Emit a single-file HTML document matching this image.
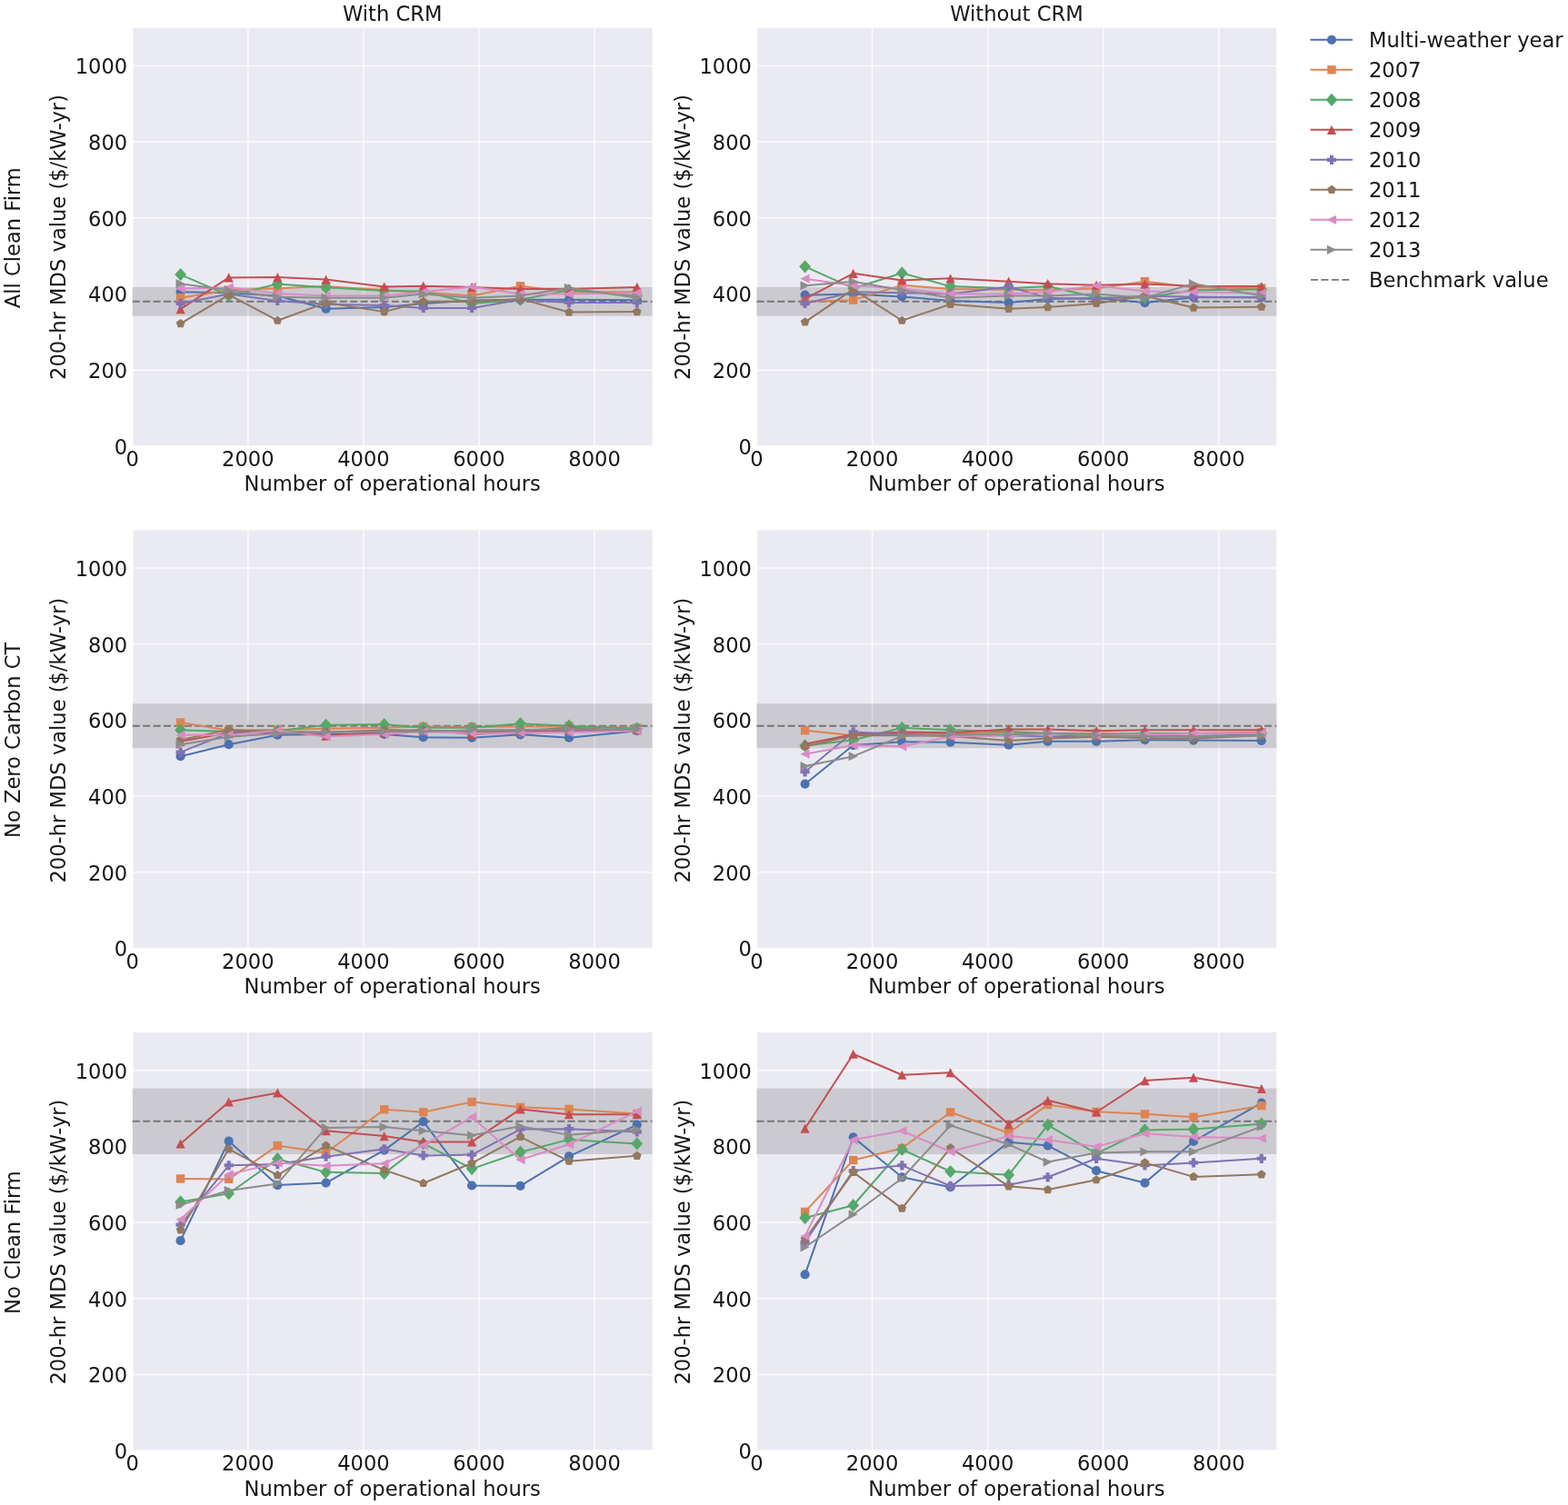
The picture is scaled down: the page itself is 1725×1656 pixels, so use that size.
<!DOCTYPE html>
<html><head><meta charset="utf-8"><title>MDS value chart</title>
<style>html,body{margin:0;padding:0;background:#fff;}svg{display:block;filter:blur(0.7px);}</style>
</head><body>
<svg width="1725" height="1656" viewBox="0 0 1725 1656" font-family="'DejaVu Sans', 'Liberation Sans', sans-serif" font-size="22.6" fill="#161616">
<rect width="1725" height="1656" fill="#fff"/>
<rect x="145.8" y="30.6" width="571.8" height="460.2" fill="#EAEAF2"/>
<path d="M145.8 30.6V490.8M272.87 30.6V490.8M399.93 30.6V490.8M527 30.6V490.8M654.07 30.6V490.8M145.8 490.8H717.6M145.8 407.13H717.6M145.8 323.45H717.6M145.8 239.78H717.6M145.8 156.11H717.6M145.8 72.44H717.6" stroke="#fff" stroke-opacity="0.8" stroke-width="1.5" fill="none"/>
<rect x="145.8" y="315.92" width="571.8" height="31.8" fill="#CBCAD0"/>
<path d="M272.87 315.92V347.72M399.93 315.92V347.72M527 315.92V347.72M654.07 315.92V347.72" stroke="#fff" stroke-opacity="0.3" stroke-width="1.5" fill="none"/>
<line x1="145.8" y1="331.82" x2="717.6" y2="331.82" stroke="#767676" stroke-width="1.9" stroke-dasharray="8 3.4"/>
<polyline points="198.6,321.36 251.7,322.2 305.3,325.55 358.6,339.77 422.7,338.1 465.7,333.91 519.1,330.57 572.5,329.73 626,329.73 700.8,330.15" fill="none" stroke="#4C72B0" stroke-width="2" stroke-linejoin="round" stroke-linecap="round"/>
<circle cx="198.6" cy="321.36" r="5.1" fill="#4C72B0"/>
<circle cx="251.7" cy="322.2" r="5.1" fill="#4C72B0"/>
<circle cx="305.3" cy="325.55" r="5.1" fill="#4C72B0"/>
<circle cx="358.6" cy="339.77" r="5.1" fill="#4C72B0"/>
<circle cx="422.7" cy="338.1" r="5.1" fill="#4C72B0"/>
<circle cx="465.7" cy="333.91" r="5.1" fill="#4C72B0"/>
<circle cx="519.1" cy="330.57" r="5.1" fill="#4C72B0"/>
<circle cx="572.5" cy="329.73" r="5.1" fill="#4C72B0"/>
<circle cx="626" cy="329.73" r="5.1" fill="#4C72B0"/>
<circle cx="700.8" cy="330.15" r="5.1" fill="#4C72B0"/>
<polyline points="198.6,327.64 251.7,319.27 305.3,317.18 358.6,315.09 422.7,319.27 465.7,321.78 519.1,325.55 572.5,314.67 626,321.36 700.8,321.36" fill="none" stroke="#DD8452" stroke-width="2" stroke-linejoin="round" stroke-linecap="round"/>
<polygon points="193.91,322.95 203.29,322.95 203.29,332.33 193.91,332.33" fill="#DD8452" stroke-linejoin="miter"/>
<polygon points="247.01,314.58 256.39,314.58 256.39,323.96 247.01,323.96" fill="#DD8452" stroke-linejoin="miter"/>
<polygon points="300.61,312.49 309.99,312.49 309.99,321.87 300.61,321.87" fill="#DD8452" stroke-linejoin="miter"/>
<polygon points="353.91,310.4 363.29,310.4 363.29,319.78 353.91,319.78" fill="#DD8452" stroke-linejoin="miter"/>
<polygon points="418.01,314.58 427.39,314.58 427.39,323.96 418.01,323.96" fill="#DD8452" stroke-linejoin="miter"/>
<polygon points="461.01,317.09 470.39,317.09 470.39,326.47 461.01,326.47" fill="#DD8452" stroke-linejoin="miter"/>
<polygon points="514.41,320.85 523.79,320.85 523.79,330.24 514.41,330.24" fill="#DD8452" stroke-linejoin="miter"/>
<polygon points="567.81,309.98 577.19,309.98 577.19,319.36 567.81,319.36" fill="#DD8452" stroke-linejoin="miter"/>
<polygon points="621.31,316.67 630.69,316.67 630.69,326.05 621.31,326.05" fill="#DD8452" stroke-linejoin="miter"/>
<polygon points="696.11,316.67 705.49,316.67 705.49,326.05 696.11,326.05" fill="#DD8452" stroke-linejoin="miter"/>
<polyline points="198.6,302.12 251.7,325.13 305.3,312.58 358.6,316.34 422.7,320.11 465.7,320.53 519.1,333.91 572.5,329.73 626,319.27 700.8,325.55" fill="none" stroke="#55A868" stroke-width="2" stroke-linejoin="round" stroke-linecap="round"/>
<polygon points="198.6,294.98 204.97,302.12 198.6,309.26 192.22,302.12" fill="#55A868" stroke-linejoin="miter"/>
<polygon points="251.7,317.99 258.07,325.13 251.7,332.27 245.32,325.13" fill="#55A868" stroke-linejoin="miter"/>
<polygon points="305.3,305.44 311.68,312.58 305.3,319.72 298.93,312.58" fill="#55A868" stroke-linejoin="miter"/>
<polygon points="358.6,309.2 364.98,316.34 358.6,323.48 352.23,316.34" fill="#55A868" stroke-linejoin="miter"/>
<polygon points="422.7,312.97 429.07,320.11 422.7,327.25 416.32,320.11" fill="#55A868" stroke-linejoin="miter"/>
<polygon points="465.7,313.39 472.07,320.53 465.7,327.67 459.32,320.53" fill="#55A868" stroke-linejoin="miter"/>
<polygon points="519.1,326.77 525.48,333.91 519.1,341.05 512.73,333.91" fill="#55A868" stroke-linejoin="miter"/>
<polygon points="572.5,322.59 578.88,329.73 572.5,336.87 566.12,329.73" fill="#55A868" stroke-linejoin="miter"/>
<polygon points="626,312.13 632.38,319.27 626,326.41 619.62,319.27" fill="#55A868" stroke-linejoin="miter"/>
<polygon points="700.8,318.41 707.17,325.55 700.8,332.69 694.42,325.55" fill="#55A868" stroke-linejoin="miter"/>
<polyline points="198.6,340.19 251.7,305.46 305.3,305.05 358.6,307.56 422.7,315.51 465.7,314.67 519.1,315.92 572.5,318.02 626,318.02 700.8,315.92" fill="none" stroke="#C44E52" stroke-width="2" stroke-linejoin="round" stroke-linecap="round"/>
<polygon points="198.6,335.09 203.7,345.29 193.5,345.29" fill="#C44E52" stroke-linejoin="miter"/>
<polygon points="251.7,300.36 256.8,310.56 246.6,310.56" fill="#C44E52" stroke-linejoin="miter"/>
<polygon points="305.3,299.95 310.4,310.15 300.2,310.15" fill="#C44E52" stroke-linejoin="miter"/>
<polygon points="358.6,302.46 363.7,312.66 353.5,312.66" fill="#C44E52" stroke-linejoin="miter"/>
<polygon points="422.7,310.41 427.8,320.61 417.6,320.61" fill="#C44E52" stroke-linejoin="miter"/>
<polygon points="465.7,309.57 470.8,319.77 460.6,319.77" fill="#C44E52" stroke-linejoin="miter"/>
<polygon points="519.1,310.82 524.2,321.02 514,321.02" fill="#C44E52" stroke-linejoin="miter"/>
<polygon points="572.5,312.92 577.6,323.12 567.4,323.12" fill="#C44E52" stroke-linejoin="miter"/>
<polygon points="626,312.92 631.1,323.12 620.9,323.12" fill="#C44E52" stroke-linejoin="miter"/>
<polygon points="700.8,310.82 705.9,321.02 695.7,321.02" fill="#C44E52" stroke-linejoin="miter"/>
<polyline points="198.6,333.91 251.7,323.45 305.3,330.99 358.6,334.75 422.7,336.01 465.7,338.93 519.1,338.93 572.5,329.73 626,333.08 700.8,333.08" fill="none" stroke="#8172B3" stroke-width="2" stroke-linejoin="round" stroke-linecap="round"/>
<polygon points="196.56,328.81 200.64,328.81 200.64,331.87 203.7,331.87 203.7,335.95 200.64,335.95 200.64,339.01 196.56,339.01 196.56,335.95 193.5,335.95 193.5,331.87 196.56,331.87" fill="#8172B3" stroke-linejoin="miter"/>
<polygon points="249.66,318.35 253.74,318.35 253.74,321.41 256.8,321.41 256.8,325.49 253.74,325.49 253.74,328.55 249.66,328.55 249.66,325.49 246.6,325.49 246.6,321.41 249.66,321.41" fill="#8172B3" stroke-linejoin="miter"/>
<polygon points="303.26,325.89 307.34,325.89 307.34,328.95 310.4,328.95 310.4,333.03 307.34,333.03 307.34,336.09 303.26,336.09 303.26,333.03 300.2,333.03 300.2,328.95 303.26,328.95" fill="#8172B3" stroke-linejoin="miter"/>
<polygon points="356.56,329.65 360.64,329.65 360.64,332.71 363.7,332.71 363.7,336.79 360.64,336.79 360.64,339.85 356.56,339.85 356.56,336.79 353.5,336.79 353.5,332.71 356.56,332.71" fill="#8172B3" stroke-linejoin="miter"/>
<polygon points="420.66,330.91 424.74,330.91 424.74,333.97 427.8,333.97 427.8,338.05 424.74,338.05 424.74,341.11 420.66,341.11 420.66,338.05 417.6,338.05 417.6,333.97 420.66,333.97" fill="#8172B3" stroke-linejoin="miter"/>
<polygon points="463.66,333.83 467.74,333.83 467.74,336.89 470.8,336.89 470.8,340.97 467.74,340.97 467.74,344.03 463.66,344.03 463.66,340.97 460.6,340.97 460.6,336.89 463.66,336.89" fill="#8172B3" stroke-linejoin="miter"/>
<polygon points="517.06,333.83 521.14,333.83 521.14,336.89 524.2,336.89 524.2,340.97 521.14,340.97 521.14,344.03 517.06,344.03 517.06,340.97 514,340.97 514,336.89 517.06,336.89" fill="#8172B3" stroke-linejoin="miter"/>
<polygon points="570.46,324.63 574.54,324.63 574.54,327.69 577.6,327.69 577.6,331.77 574.54,331.77 574.54,334.83 570.46,334.83 570.46,331.77 567.4,331.77 567.4,327.69 570.46,327.69" fill="#8172B3" stroke-linejoin="miter"/>
<polygon points="623.96,327.98 628.04,327.98 628.04,331.04 631.1,331.04 631.1,335.12 628.04,335.12 628.04,338.18 623.96,338.18 623.96,335.12 620.9,335.12 620.9,331.04 623.96,331.04" fill="#8172B3" stroke-linejoin="miter"/>
<polygon points="698.76,327.98 702.84,327.98 702.84,331.04 705.9,331.04 705.9,335.12 702.84,335.12 702.84,338.18 698.76,338.18 698.76,335.12 695.7,335.12 695.7,331.04 698.76,331.04" fill="#8172B3" stroke-linejoin="miter"/>
<polyline points="198.6,356.09 251.7,324.29 305.3,352.74 358.6,333.08 422.7,343.12 465.7,331.82 519.1,331.82 572.5,328.89 626,343.54 700.8,343.12" fill="none" stroke="#937860" stroke-width="2" stroke-linejoin="round" stroke-linecap="round"/>
<polygon points="198.6,350.99 203.45,354.51 201.6,360.21 195.6,360.21 193.75,354.51" fill="#937860" stroke-linejoin="miter"/>
<polygon points="251.7,319.19 256.55,322.72 254.7,328.42 248.7,328.42 246.85,322.72" fill="#937860" stroke-linejoin="miter"/>
<polygon points="305.3,347.64 310.15,351.16 308.3,356.87 302.3,356.87 300.45,351.16" fill="#937860" stroke-linejoin="miter"/>
<polygon points="358.6,327.98 363.45,331.5 361.6,337.2 355.6,337.2 353.75,331.5" fill="#937860" stroke-linejoin="miter"/>
<polygon points="422.7,338.02 427.55,341.54 425.7,347.24 419.7,347.24 417.85,341.54" fill="#937860" stroke-linejoin="miter"/>
<polygon points="465.7,326.72 470.55,330.25 468.7,335.95 462.7,335.95 460.85,330.25" fill="#937860" stroke-linejoin="miter"/>
<polygon points="519.1,326.72 523.95,330.25 522.1,335.95 516.1,335.95 514.25,330.25" fill="#937860" stroke-linejoin="miter"/>
<polygon points="572.5,323.79 577.35,327.32 575.5,333.02 569.5,333.02 567.65,327.32" fill="#937860" stroke-linejoin="miter"/>
<polygon points="626,338.44 630.85,341.96 629,347.66 623,347.66 621.15,341.96" fill="#937860" stroke-linejoin="miter"/>
<polygon points="700.8,338.02 705.65,341.54 703.8,347.24 697.8,347.24 695.95,341.54" fill="#937860" stroke-linejoin="miter"/>
<polyline points="198.6,317.6 251.7,316.34 305.3,323.04 358.6,325.55 422.7,325.55 465.7,321.36 519.1,315.51 572.5,323.45 626,323.45 700.8,322.2" fill="none" stroke="#DA8BC3" stroke-width="2" stroke-linejoin="round" stroke-linecap="round"/>
<polygon points="193.5,317.6 203.7,312.5 203.7,322.7" fill="#DA8BC3" stroke-linejoin="miter"/>
<polygon points="246.6,316.34 256.8,311.24 256.8,321.44" fill="#DA8BC3" stroke-linejoin="miter"/>
<polygon points="300.2,323.04 310.4,317.94 310.4,328.14" fill="#DA8BC3" stroke-linejoin="miter"/>
<polygon points="353.5,325.55 363.7,320.45 363.7,330.65" fill="#DA8BC3" stroke-linejoin="miter"/>
<polygon points="417.6,325.55 427.8,320.45 427.8,330.65" fill="#DA8BC3" stroke-linejoin="miter"/>
<polygon points="460.6,321.36 470.8,316.26 470.8,326.46" fill="#DA8BC3" stroke-linejoin="miter"/>
<polygon points="514,315.51 524.2,310.41 524.2,320.61" fill="#DA8BC3" stroke-linejoin="miter"/>
<polygon points="567.4,323.45 577.6,318.35 577.6,328.55" fill="#DA8BC3" stroke-linejoin="miter"/>
<polygon points="620.9,323.45 631.1,318.35 631.1,328.55" fill="#DA8BC3" stroke-linejoin="miter"/>
<polygon points="695.7,322.2 705.9,317.1 705.9,327.3" fill="#DA8BC3" stroke-linejoin="miter"/>
<polyline points="198.6,312.16 251.7,319.27 305.3,326.8 358.6,327.64 422.7,327.64 465.7,323.45 519.1,327.64 572.5,325.55 626,316.76 700.8,327.64" fill="none" stroke="#8C8C8C" stroke-width="2" stroke-linejoin="round" stroke-linecap="round"/>
<polygon points="203.7,312.16 193.5,307.06 193.5,317.26" fill="#8C8C8C" stroke-linejoin="miter"/>
<polygon points="256.8,319.27 246.6,314.17 246.6,324.37" fill="#8C8C8C" stroke-linejoin="miter"/>
<polygon points="310.4,326.8 300.2,321.7 300.2,331.9" fill="#8C8C8C" stroke-linejoin="miter"/>
<polygon points="363.7,327.64 353.5,322.54 353.5,332.74" fill="#8C8C8C" stroke-linejoin="miter"/>
<polygon points="427.8,327.64 417.6,322.54 417.6,332.74" fill="#8C8C8C" stroke-linejoin="miter"/>
<polygon points="470.8,323.45 460.6,318.35 460.6,328.55" fill="#8C8C8C" stroke-linejoin="miter"/>
<polygon points="524.2,327.64 514,322.54 514,332.74" fill="#8C8C8C" stroke-linejoin="miter"/>
<polygon points="577.6,325.55 567.4,320.45 567.4,330.65" fill="#8C8C8C" stroke-linejoin="miter"/>
<polygon points="631.1,316.76 620.9,311.66 620.9,321.86" fill="#8C8C8C" stroke-linejoin="miter"/>
<polygon points="705.9,327.64 695.7,322.54 695.7,332.74" fill="#8C8C8C" stroke-linejoin="miter"/>
<text x="140.2" y="499.6" text-anchor="end">0</text>
<text x="140.2" y="415.93" text-anchor="end">200</text>
<text x="140.2" y="332.25" text-anchor="end">400</text>
<text x="140.2" y="248.58" text-anchor="end">600</text>
<text x="140.2" y="164.91" text-anchor="end">800</text>
<text x="140.2" y="81.24" text-anchor="end">1000</text>
<text x="145.8" y="513.1" text-anchor="middle">0</text>
<text x="272.87" y="513.1" text-anchor="middle">2000</text>
<text x="399.93" y="513.1" text-anchor="middle">4000</text>
<text x="527" y="513.1" text-anchor="middle">6000</text>
<text x="654.07" y="513.1" text-anchor="middle">8000</text>
<text x="431.7" y="540.2" text-anchor="middle">Number of operational hours</text>
<text transform="translate(71.9 261) rotate(-90)" text-anchor="middle">200-hr MDS value ($/kW-yr)</text>
<text x="431.7" y="22.6" text-anchor="middle">With CRM</text>
<rect x="832.5" y="30.6" width="571.8" height="460.2" fill="#EAEAF2"/>
<path d="M832.5 30.6V490.8M959.57 30.6V490.8M1086.63 30.6V490.8M1213.7 30.6V490.8M1340.77 30.6V490.8M832.5 490.8H1404.3M832.5 407.13H1404.3M832.5 323.45H1404.3M832.5 239.78H1404.3M832.5 156.11H1404.3M832.5 72.44H1404.3" stroke="#fff" stroke-opacity="0.8" stroke-width="1.5" fill="none"/>
<rect x="832.5" y="315.92" width="571.8" height="31.8" fill="#CBCAD0"/>
<path d="M959.57 315.92V347.72M1086.63 315.92V347.72M1213.7 315.92V347.72M1340.77 315.92V347.72" stroke="#fff" stroke-opacity="0.3" stroke-width="1.5" fill="none"/>
<line x1="832.5" y1="331.82" x2="1404.3" y2="331.82" stroke="#767676" stroke-width="1.9" stroke-dasharray="8 3.4"/>
<polyline points="885.6,324.71 938.7,323.45 992.3,326.38 1045.6,330.99 1109.7,333.08 1152.7,328.89 1206.1,328.06 1259.5,333.08 1313,327.22 1387.8,327.22" fill="none" stroke="#4C72B0" stroke-width="2" stroke-linejoin="round" stroke-linecap="round"/>
<circle cx="885.6" cy="324.71" r="5.1" fill="#4C72B0"/>
<circle cx="938.7" cy="323.45" r="5.1" fill="#4C72B0"/>
<circle cx="992.3" cy="326.38" r="5.1" fill="#4C72B0"/>
<circle cx="1045.6" cy="330.99" r="5.1" fill="#4C72B0"/>
<circle cx="1109.7" cy="333.08" r="5.1" fill="#4C72B0"/>
<circle cx="1152.7" cy="328.89" r="5.1" fill="#4C72B0"/>
<circle cx="1206.1" cy="328.06" r="5.1" fill="#4C72B0"/>
<circle cx="1259.5" cy="333.08" r="5.1" fill="#4C72B0"/>
<circle cx="1313" cy="327.22" r="5.1" fill="#4C72B0"/>
<circle cx="1387.8" cy="327.22" r="5.1" fill="#4C72B0"/>
<polyline points="885.6,331.82 938.7,330.15 992.3,313.83 1045.6,318.02 1109.7,318.85 1152.7,319.27 1206.1,317.6 1259.5,309.65 1313,316.34 1387.8,317.18" fill="none" stroke="#DD8452" stroke-width="2" stroke-linejoin="round" stroke-linecap="round"/>
<polygon points="880.91,327.13 890.29,327.13 890.29,336.51 880.91,336.51" fill="#DD8452" stroke-linejoin="miter"/>
<polygon points="934.01,325.46 943.39,325.46 943.39,334.84 934.01,334.84" fill="#DD8452" stroke-linejoin="miter"/>
<polygon points="987.61,309.14 996.99,309.14 996.99,318.52 987.61,318.52" fill="#DD8452" stroke-linejoin="miter"/>
<polygon points="1040.91,313.32 1050.29,313.32 1050.29,322.71 1040.91,322.71" fill="#DD8452" stroke-linejoin="miter"/>
<polygon points="1105.01,314.16 1114.39,314.16 1114.39,323.54 1105.01,323.54" fill="#DD8452" stroke-linejoin="miter"/>
<polygon points="1148.01,314.58 1157.39,314.58 1157.39,323.96 1148.01,323.96" fill="#DD8452" stroke-linejoin="miter"/>
<polygon points="1201.41,312.91 1210.79,312.91 1210.79,322.29 1201.41,322.29" fill="#DD8452" stroke-linejoin="miter"/>
<polygon points="1254.81,304.96 1264.19,304.96 1264.19,314.34 1254.81,314.34" fill="#DD8452" stroke-linejoin="miter"/>
<polygon points="1308.31,311.65 1317.69,311.65 1317.69,321.03 1308.31,321.03" fill="#DD8452" stroke-linejoin="miter"/>
<polygon points="1383.11,312.49 1392.49,312.49 1392.49,321.87 1383.11,321.87" fill="#DD8452" stroke-linejoin="miter"/>
<polyline points="885.6,293.33 938.7,317.18 992.3,300.44 1045.6,315.09 1109.7,317.18 1152.7,315.09 1206.1,327.22 1259.5,327.64 1313,319.27 1387.8,318.43" fill="none" stroke="#55A868" stroke-width="2" stroke-linejoin="round" stroke-linecap="round"/>
<polygon points="885.6,286.19 891.98,293.33 885.6,300.47 879.23,293.33" fill="#55A868" stroke-linejoin="miter"/>
<polygon points="938.7,310.04 945.08,317.18 938.7,324.32 932.33,317.18" fill="#55A868" stroke-linejoin="miter"/>
<polygon points="992.3,293.3 998.67,300.44 992.3,307.58 985.92,300.44" fill="#55A868" stroke-linejoin="miter"/>
<polygon points="1045.6,307.95 1051.97,315.09 1045.6,322.23 1039.22,315.09" fill="#55A868" stroke-linejoin="miter"/>
<polygon points="1109.7,310.04 1116.08,317.18 1109.7,324.32 1103.33,317.18" fill="#55A868" stroke-linejoin="miter"/>
<polygon points="1152.7,307.95 1159.08,315.09 1152.7,322.23 1146.33,315.09" fill="#55A868" stroke-linejoin="miter"/>
<polygon points="1206.1,320.08 1212.47,327.22 1206.1,334.36 1199.72,327.22" fill="#55A868" stroke-linejoin="miter"/>
<polygon points="1259.5,320.5 1265.88,327.64 1259.5,334.78 1253.12,327.64" fill="#55A868" stroke-linejoin="miter"/>
<polygon points="1313,312.13 1319.38,319.27 1313,326.41 1306.62,319.27" fill="#55A868" stroke-linejoin="miter"/>
<polygon points="1387.8,311.29 1394.17,318.43 1387.8,325.57 1381.42,318.43" fill="#55A868" stroke-linejoin="miter"/>
<polyline points="885.6,328.89 938.7,300.86 992.3,308.39 1045.6,306.3 1109.7,309.65 1152.7,312.16 1206.1,313.83 1259.5,312.58 1313,314.67 1387.8,315.09" fill="none" stroke="#C44E52" stroke-width="2" stroke-linejoin="round" stroke-linecap="round"/>
<polygon points="885.6,323.79 890.7,333.99 880.5,333.99" fill="#C44E52" stroke-linejoin="miter"/>
<polygon points="938.7,295.76 943.8,305.96 933.6,305.96" fill="#C44E52" stroke-linejoin="miter"/>
<polygon points="992.3,303.29 997.4,313.49 987.2,313.49" fill="#C44E52" stroke-linejoin="miter"/>
<polygon points="1045.6,301.2 1050.7,311.4 1040.5,311.4" fill="#C44E52" stroke-linejoin="miter"/>
<polygon points="1109.7,304.55 1114.8,314.75 1104.6,314.75" fill="#C44E52" stroke-linejoin="miter"/>
<polygon points="1152.7,307.06 1157.8,317.26 1147.6,317.26" fill="#C44E52" stroke-linejoin="miter"/>
<polygon points="1206.1,308.73 1211.2,318.93 1201,318.93" fill="#C44E52" stroke-linejoin="miter"/>
<polygon points="1259.5,307.48 1264.6,317.68 1254.4,317.68" fill="#C44E52" stroke-linejoin="miter"/>
<polygon points="1313,309.57 1318.1,319.77 1307.9,319.77" fill="#C44E52" stroke-linejoin="miter"/>
<polygon points="1387.8,309.99 1392.9,320.19 1382.7,320.19" fill="#C44E52" stroke-linejoin="miter"/>
<polyline points="885.6,333.91 938.7,321.36 992.3,322.2 1045.6,323.45 1109.7,315.51 1152.7,327.64 1206.1,328.89 1259.5,325.55 1313,326.8 1387.8,327.22" fill="none" stroke="#8172B3" stroke-width="2" stroke-linejoin="round" stroke-linecap="round"/>
<polygon points="883.56,328.81 887.64,328.81 887.64,331.87 890.7,331.87 890.7,335.95 887.64,335.95 887.64,339.01 883.56,339.01 883.56,335.95 880.5,335.95 880.5,331.87 883.56,331.87" fill="#8172B3" stroke-linejoin="miter"/>
<polygon points="936.66,316.26 940.74,316.26 940.74,319.32 943.8,319.32 943.8,323.4 940.74,323.4 940.74,326.46 936.66,326.46 936.66,323.4 933.6,323.4 933.6,319.32 936.66,319.32" fill="#8172B3" stroke-linejoin="miter"/>
<polygon points="990.26,317.1 994.34,317.1 994.34,320.16 997.4,320.16 997.4,324.24 994.34,324.24 994.34,327.3 990.26,327.3 990.26,324.24 987.2,324.24 987.2,320.16 990.26,320.16" fill="#8172B3" stroke-linejoin="miter"/>
<polygon points="1043.56,318.35 1047.64,318.35 1047.64,321.41 1050.7,321.41 1050.7,325.49 1047.64,325.49 1047.64,328.55 1043.56,328.55 1043.56,325.49 1040.5,325.49 1040.5,321.41 1043.56,321.41" fill="#8172B3" stroke-linejoin="miter"/>
<polygon points="1107.66,310.41 1111.74,310.41 1111.74,313.47 1114.8,313.47 1114.8,317.55 1111.74,317.55 1111.74,320.61 1107.66,320.61 1107.66,317.55 1104.6,317.55 1104.6,313.47 1107.66,313.47" fill="#8172B3" stroke-linejoin="miter"/>
<polygon points="1150.66,322.54 1154.74,322.54 1154.74,325.6 1157.8,325.6 1157.8,329.68 1154.74,329.68 1154.74,332.74 1150.66,332.74 1150.66,329.68 1147.6,329.68 1147.6,325.6 1150.66,325.6" fill="#8172B3" stroke-linejoin="miter"/>
<polygon points="1204.06,323.79 1208.14,323.79 1208.14,326.85 1211.2,326.85 1211.2,330.93 1208.14,330.93 1208.14,333.99 1204.06,333.99 1204.06,330.93 1201,330.93 1201,326.85 1204.06,326.85" fill="#8172B3" stroke-linejoin="miter"/>
<polygon points="1257.46,320.45 1261.54,320.45 1261.54,323.51 1264.6,323.51 1264.6,327.59 1261.54,327.59 1261.54,330.65 1257.46,330.65 1257.46,327.59 1254.4,327.59 1254.4,323.51 1257.46,323.51" fill="#8172B3" stroke-linejoin="miter"/>
<polygon points="1310.96,321.7 1315.04,321.7 1315.04,324.76 1318.1,324.76 1318.1,328.84 1315.04,328.84 1315.04,331.9 1310.96,331.9 1310.96,328.84 1307.9,328.84 1307.9,324.76 1310.96,324.76" fill="#8172B3" stroke-linejoin="miter"/>
<polygon points="1385.76,322.12 1389.84,322.12 1389.84,325.18 1392.9,325.18 1392.9,329.26 1389.84,329.26 1389.84,332.32 1385.76,332.32 1385.76,329.26 1382.7,329.26 1382.7,325.18 1385.76,325.18" fill="#8172B3" stroke-linejoin="miter"/>
<polyline points="885.6,354.41 938.7,318.43 992.3,352.74 1045.6,334.75 1109.7,339.77 1152.7,338.1 1206.1,333.91 1259.5,325.55 1313,338.52 1387.8,337.68" fill="none" stroke="#937860" stroke-width="2" stroke-linejoin="round" stroke-linecap="round"/>
<polygon points="885.6,349.31 890.45,352.84 888.6,358.54 882.6,358.54 880.75,352.84" fill="#937860" stroke-linejoin="miter"/>
<polygon points="938.7,313.33 943.55,316.86 941.7,322.56 935.7,322.56 933.85,316.86" fill="#937860" stroke-linejoin="miter"/>
<polygon points="992.3,347.64 997.15,351.16 995.3,356.87 989.3,356.87 987.45,351.16" fill="#937860" stroke-linejoin="miter"/>
<polygon points="1045.6,329.65 1050.45,333.17 1048.6,338.88 1042.6,338.88 1040.75,333.17" fill="#937860" stroke-linejoin="miter"/>
<polygon points="1109.7,334.67 1114.55,338.19 1112.7,343.9 1106.7,343.9 1104.85,338.19" fill="#937860" stroke-linejoin="miter"/>
<polygon points="1152.7,333 1157.55,336.52 1155.7,342.22 1149.7,342.22 1147.85,336.52" fill="#937860" stroke-linejoin="miter"/>
<polygon points="1206.1,328.81 1210.95,332.34 1209.1,338.04 1203.1,338.04 1201.25,332.34" fill="#937860" stroke-linejoin="miter"/>
<polygon points="1259.5,320.45 1264.35,323.97 1262.5,329.67 1256.5,329.67 1254.65,323.97" fill="#937860" stroke-linejoin="miter"/>
<polygon points="1313,333.42 1317.85,336.94 1316,342.64 1310,342.64 1308.15,336.94" fill="#937860" stroke-linejoin="miter"/>
<polygon points="1387.8,332.58 1392.65,336.1 1390.8,341.8 1384.8,341.8 1382.95,336.1" fill="#937860" stroke-linejoin="miter"/>
<polyline points="885.6,306.72 938.7,314.25 992.3,317.6 1045.6,323.45 1109.7,323.45 1152.7,321.36 1206.1,314.25 1259.5,320.53 1313,321.36 1387.8,322.62" fill="none" stroke="#DA8BC3" stroke-width="2" stroke-linejoin="round" stroke-linecap="round"/>
<polygon points="880.5,306.72 890.7,301.62 890.7,311.82" fill="#DA8BC3" stroke-linejoin="miter"/>
<polygon points="933.6,314.25 943.8,309.15 943.8,319.35" fill="#DA8BC3" stroke-linejoin="miter"/>
<polygon points="987.2,317.6 997.4,312.5 997.4,322.7" fill="#DA8BC3" stroke-linejoin="miter"/>
<polygon points="1040.5,323.45 1050.7,318.35 1050.7,328.55" fill="#DA8BC3" stroke-linejoin="miter"/>
<polygon points="1104.6,323.45 1114.8,318.35 1114.8,328.55" fill="#DA8BC3" stroke-linejoin="miter"/>
<polygon points="1147.6,321.36 1157.8,316.26 1157.8,326.46" fill="#DA8BC3" stroke-linejoin="miter"/>
<polygon points="1201,314.25 1211.2,309.15 1211.2,319.35" fill="#DA8BC3" stroke-linejoin="miter"/>
<polygon points="1254.4,320.53 1264.6,315.43 1264.6,325.63" fill="#DA8BC3" stroke-linejoin="miter"/>
<polygon points="1307.9,321.36 1318.1,316.26 1318.1,326.46" fill="#DA8BC3" stroke-linejoin="miter"/>
<polygon points="1382.7,322.62 1392.9,317.52 1392.9,327.72" fill="#DA8BC3" stroke-linejoin="miter"/>
<polyline points="885.6,314.25 938.7,309.65 992.3,319.27 1045.6,327.64 1109.7,325.55 1152.7,325.55 1206.1,323.45 1259.5,327.64 1313,312.16 1387.8,325.55" fill="none" stroke="#8C8C8C" stroke-width="2" stroke-linejoin="round" stroke-linecap="round"/>
<polygon points="890.7,314.25 880.5,309.15 880.5,319.35" fill="#8C8C8C" stroke-linejoin="miter"/>
<polygon points="943.8,309.65 933.6,304.55 933.6,314.75" fill="#8C8C8C" stroke-linejoin="miter"/>
<polygon points="997.4,319.27 987.2,314.17 987.2,324.37" fill="#8C8C8C" stroke-linejoin="miter"/>
<polygon points="1050.7,327.64 1040.5,322.54 1040.5,332.74" fill="#8C8C8C" stroke-linejoin="miter"/>
<polygon points="1114.8,325.55 1104.6,320.45 1104.6,330.65" fill="#8C8C8C" stroke-linejoin="miter"/>
<polygon points="1157.8,325.55 1147.6,320.45 1147.6,330.65" fill="#8C8C8C" stroke-linejoin="miter"/>
<polygon points="1211.2,323.45 1201,318.35 1201,328.55" fill="#8C8C8C" stroke-linejoin="miter"/>
<polygon points="1264.6,327.64 1254.4,322.54 1254.4,332.74" fill="#8C8C8C" stroke-linejoin="miter"/>
<polygon points="1318.1,312.16 1307.9,307.06 1307.9,317.26" fill="#8C8C8C" stroke-linejoin="miter"/>
<polygon points="1392.9,325.55 1382.7,320.45 1382.7,330.65" fill="#8C8C8C" stroke-linejoin="miter"/>
<text x="826.9" y="499.6" text-anchor="end">0</text>
<text x="826.9" y="415.93" text-anchor="end">200</text>
<text x="826.9" y="332.25" text-anchor="end">400</text>
<text x="826.9" y="248.58" text-anchor="end">600</text>
<text x="826.9" y="164.91" text-anchor="end">800</text>
<text x="826.9" y="81.24" text-anchor="end">1000</text>
<text x="832.5" y="513.1" text-anchor="middle">0</text>
<text x="959.57" y="513.1" text-anchor="middle">2000</text>
<text x="1086.63" y="513.1" text-anchor="middle">4000</text>
<text x="1213.7" y="513.1" text-anchor="middle">6000</text>
<text x="1340.77" y="513.1" text-anchor="middle">8000</text>
<text x="1118.4" y="540.2" text-anchor="middle">Number of operational hours</text>
<text transform="translate(759 261) rotate(-90)" text-anchor="middle">200-hr MDS value ($/kW-yr)</text>
<text x="1118.4" y="22.6" text-anchor="middle">Without CRM</text>
<text transform="translate(21.8 261.7) rotate(-90)" text-anchor="middle">All Clean Firm</text>
<rect x="145.8" y="583.25" width="571.8" height="460.2" fill="#EAEAF2"/>
<path d="M145.8 583.25V1043.45M272.87 583.25V1043.45M399.93 583.25V1043.45M527 583.25V1043.45M654.07 583.25V1043.45M145.8 1043.45H717.6M145.8 959.78H717.6M145.8 876.1H717.6M145.8 792.43H717.6M145.8 708.76H717.6M145.8 625.09H717.6" stroke="#fff" stroke-opacity="0.8" stroke-width="1.5" fill="none"/>
<rect x="145.8" y="774.23" width="571.8" height="48.95" fill="#CBCAD0"/>
<path d="M272.87 774.23V823.18M399.93 774.23V823.18M527 774.23V823.18M654.07 774.23V823.18" stroke="#fff" stroke-opacity="0.3" stroke-width="1.5" fill="none"/>
<line x1="145.8" y1="798.71" x2="717.6" y2="798.71" stroke="#767676" stroke-width="1.9" stroke-dasharray="8 3.4"/>
<polyline points="198.6,832.18 251.7,819.21 305.3,808.75 358.6,807.91 422.7,807.91 465.7,811.26 519.1,811.68 572.5,808.33 626,811.68 700.8,804.15" fill="none" stroke="#4C72B0" stroke-width="2" stroke-linejoin="round" stroke-linecap="round"/>
<circle cx="198.6" cy="832.18" r="5.1" fill="#4C72B0"/>
<circle cx="251.7" cy="819.21" r="5.1" fill="#4C72B0"/>
<circle cx="305.3" cy="808.75" r="5.1" fill="#4C72B0"/>
<circle cx="358.6" cy="807.91" r="5.1" fill="#4C72B0"/>
<circle cx="422.7" cy="807.91" r="5.1" fill="#4C72B0"/>
<circle cx="465.7" cy="811.26" r="5.1" fill="#4C72B0"/>
<circle cx="519.1" cy="811.68" r="5.1" fill="#4C72B0"/>
<circle cx="572.5" cy="808.33" r="5.1" fill="#4C72B0"/>
<circle cx="626" cy="811.68" r="5.1" fill="#4C72B0"/>
<circle cx="700.8" cy="804.15" r="5.1" fill="#4C72B0"/>
<polyline points="198.6,794.94 251.7,803.73 305.3,802.89 358.6,801.64 422.7,800.8 465.7,799.54 519.1,799.96 572.5,799.54 626,799.13 700.8,800.8" fill="none" stroke="#DD8452" stroke-width="2" stroke-linejoin="round" stroke-linecap="round"/>
<polygon points="193.91,790.25 203.29,790.25 203.29,799.63 193.91,799.63" fill="#DD8452" stroke-linejoin="miter"/>
<polygon points="247.01,799.04 256.39,799.04 256.39,808.42 247.01,808.42" fill="#DD8452" stroke-linejoin="miter"/>
<polygon points="300.61,798.2 309.99,798.2 309.99,807.58 300.61,807.58" fill="#DD8452" stroke-linejoin="miter"/>
<polygon points="353.91,796.94 363.29,796.94 363.29,806.33 353.91,806.33" fill="#DD8452" stroke-linejoin="miter"/>
<polygon points="418.01,796.11 427.39,796.11 427.39,805.49 418.01,805.49" fill="#DD8452" stroke-linejoin="miter"/>
<polygon points="461.01,794.85 470.39,794.85 470.39,804.24 461.01,804.24" fill="#DD8452" stroke-linejoin="miter"/>
<polygon points="514.41,795.27 523.79,795.27 523.79,804.65 514.41,804.65" fill="#DD8452" stroke-linejoin="miter"/>
<polygon points="567.81,794.85 577.19,794.85 577.19,804.24 567.81,804.24" fill="#DD8452" stroke-linejoin="miter"/>
<polygon points="621.31,794.43 630.69,794.43 630.69,803.82 621.31,803.82" fill="#DD8452" stroke-linejoin="miter"/>
<polygon points="696.11,796.11 705.49,796.11 705.49,805.49 696.11,805.49" fill="#DD8452" stroke-linejoin="miter"/>
<polyline points="198.6,803.31 251.7,804.98 305.3,804.15 358.6,797.87 422.7,797.03 465.7,800.8 519.1,800.8 572.5,796.2 626,798.71 700.8,801.64" fill="none" stroke="#55A868" stroke-width="2" stroke-linejoin="round" stroke-linecap="round"/>
<polygon points="198.6,796.17 204.97,803.31 198.6,810.45 192.22,803.31" fill="#55A868" stroke-linejoin="miter"/>
<polygon points="251.7,797.84 258.07,804.98 251.7,812.12 245.32,804.98" fill="#55A868" stroke-linejoin="miter"/>
<polygon points="305.3,797.01 311.68,804.15 305.3,811.29 298.93,804.15" fill="#55A868" stroke-linejoin="miter"/>
<polygon points="358.6,790.73 364.98,797.87 358.6,805.01 352.23,797.87" fill="#55A868" stroke-linejoin="miter"/>
<polygon points="422.7,789.89 429.07,797.03 422.7,804.17 416.32,797.03" fill="#55A868" stroke-linejoin="miter"/>
<polygon points="465.7,793.66 472.07,800.8 465.7,807.94 459.32,800.8" fill="#55A868" stroke-linejoin="miter"/>
<polygon points="519.1,793.66 525.48,800.8 519.1,807.94 512.73,800.8" fill="#55A868" stroke-linejoin="miter"/>
<polygon points="572.5,789.06 578.88,796.2 572.5,803.34 566.12,796.2" fill="#55A868" stroke-linejoin="miter"/>
<polygon points="626,791.57 632.38,798.71 626,805.85 619.62,798.71" fill="#55A868" stroke-linejoin="miter"/>
<polygon points="700.8,794.5 707.17,801.64 700.8,808.78 694.42,801.64" fill="#55A868" stroke-linejoin="miter"/>
<polyline points="198.6,815.86 251.7,806.24 305.3,804.15 358.6,809.58 422.7,805.82 465.7,802.89 519.1,807.91 572.5,804.98 626,803.73 700.8,802.89" fill="none" stroke="#C44E52" stroke-width="2" stroke-linejoin="round" stroke-linecap="round"/>
<polygon points="198.6,810.76 203.7,820.96 193.5,820.96" fill="#C44E52" stroke-linejoin="miter"/>
<polygon points="251.7,801.14 256.8,811.34 246.6,811.34" fill="#C44E52" stroke-linejoin="miter"/>
<polygon points="305.3,799.05 310.4,809.25 300.2,809.25" fill="#C44E52" stroke-linejoin="miter"/>
<polygon points="358.6,804.48 363.7,814.68 353.5,814.68" fill="#C44E52" stroke-linejoin="miter"/>
<polygon points="422.7,800.72 427.8,810.92 417.6,810.92" fill="#C44E52" stroke-linejoin="miter"/>
<polygon points="465.7,797.79 470.8,807.99 460.6,807.99" fill="#C44E52" stroke-linejoin="miter"/>
<polygon points="519.1,802.81 524.2,813.01 514,813.01" fill="#C44E52" stroke-linejoin="miter"/>
<polygon points="572.5,799.88 577.6,810.08 567.4,810.08" fill="#C44E52" stroke-linejoin="miter"/>
<polygon points="626,798.63 631.1,808.83 620.9,808.83" fill="#C44E52" stroke-linejoin="miter"/>
<polygon points="700.8,797.79 705.9,807.99 695.7,807.99" fill="#C44E52" stroke-linejoin="miter"/>
<polyline points="198.6,827.57 251.7,806.66 305.3,805.82 358.6,805.82 422.7,804.98 465.7,804.15 519.1,804.98 572.5,806.66 626,804.98 700.8,803.73" fill="none" stroke="#8172B3" stroke-width="2" stroke-linejoin="round" stroke-linecap="round"/>
<polygon points="196.56,822.47 200.64,822.47 200.64,825.53 203.7,825.53 203.7,829.61 200.64,829.61 200.64,832.67 196.56,832.67 196.56,829.61 193.5,829.61 193.5,825.53 196.56,825.53" fill="#8172B3" stroke-linejoin="miter"/>
<polygon points="249.66,801.56 253.74,801.56 253.74,804.62 256.8,804.62 256.8,808.7 253.74,808.7 253.74,811.76 249.66,811.76 249.66,808.7 246.6,808.7 246.6,804.62 249.66,804.62" fill="#8172B3" stroke-linejoin="miter"/>
<polygon points="303.26,800.72 307.34,800.72 307.34,803.78 310.4,803.78 310.4,807.86 307.34,807.86 307.34,810.92 303.26,810.92 303.26,807.86 300.2,807.86 300.2,803.78 303.26,803.78" fill="#8172B3" stroke-linejoin="miter"/>
<polygon points="356.56,800.72 360.64,800.72 360.64,803.78 363.7,803.78 363.7,807.86 360.64,807.86 360.64,810.92 356.56,810.92 356.56,807.86 353.5,807.86 353.5,803.78 356.56,803.78" fill="#8172B3" stroke-linejoin="miter"/>
<polygon points="420.66,799.88 424.74,799.88 424.74,802.94 427.8,802.94 427.8,807.02 424.74,807.02 424.74,810.08 420.66,810.08 420.66,807.02 417.6,807.02 417.6,802.94 420.66,802.94" fill="#8172B3" stroke-linejoin="miter"/>
<polygon points="463.66,799.05 467.74,799.05 467.74,802.11 470.8,802.11 470.8,806.19 467.74,806.19 467.74,809.25 463.66,809.25 463.66,806.19 460.6,806.19 460.6,802.11 463.66,802.11" fill="#8172B3" stroke-linejoin="miter"/>
<polygon points="517.06,799.88 521.14,799.88 521.14,802.94 524.2,802.94 524.2,807.02 521.14,807.02 521.14,810.08 517.06,810.08 517.06,807.02 514,807.02 514,802.94 517.06,802.94" fill="#8172B3" stroke-linejoin="miter"/>
<polygon points="570.46,801.56 574.54,801.56 574.54,804.62 577.6,804.62 577.6,808.7 574.54,808.7 574.54,811.76 570.46,811.76 570.46,808.7 567.4,808.7 567.4,804.62 570.46,804.62" fill="#8172B3" stroke-linejoin="miter"/>
<polygon points="623.96,799.88 628.04,799.88 628.04,802.94 631.1,802.94 631.1,807.02 628.04,807.02 628.04,810.08 623.96,810.08 623.96,807.02 620.9,807.02 620.9,802.94 623.96,802.94" fill="#8172B3" stroke-linejoin="miter"/>
<polygon points="698.76,798.63 702.84,798.63 702.84,801.69 705.9,801.69 705.9,805.77 702.84,805.77 702.84,808.83 698.76,808.83 698.76,805.77 695.7,805.77 695.7,801.69 698.76,801.69" fill="#8172B3" stroke-linejoin="miter"/>
<polyline points="198.6,814.19 251.7,802.89 305.3,804.98 358.6,805.82 422.7,803.31 465.7,803.73 519.1,804.98 572.5,804.15 626,800.8 700.8,804.15" fill="none" stroke="#937860" stroke-width="2" stroke-linejoin="round" stroke-linecap="round"/>
<polygon points="198.6,809.09 203.45,812.61 201.6,818.31 195.6,818.31 193.75,812.61" fill="#937860" stroke-linejoin="miter"/>
<polygon points="251.7,797.79 256.55,801.31 254.7,807.02 248.7,807.02 246.85,801.31" fill="#937860" stroke-linejoin="miter"/>
<polygon points="305.3,799.88 310.15,803.41 308.3,809.11 302.3,809.11 300.45,803.41" fill="#937860" stroke-linejoin="miter"/>
<polygon points="358.6,800.72 363.45,804.24 361.6,809.95 355.6,809.95 353.75,804.24" fill="#937860" stroke-linejoin="miter"/>
<polygon points="422.7,798.21 427.55,801.73 425.7,807.44 419.7,807.44 417.85,801.73" fill="#937860" stroke-linejoin="miter"/>
<polygon points="465.7,798.63 470.55,802.15 468.7,807.85 462.7,807.85 460.85,802.15" fill="#937860" stroke-linejoin="miter"/>
<polygon points="519.1,799.88 523.95,803.41 522.1,809.11 516.1,809.11 514.25,803.41" fill="#937860" stroke-linejoin="miter"/>
<polygon points="572.5,799.05 577.35,802.57 575.5,808.27 569.5,808.27 567.65,802.57" fill="#937860" stroke-linejoin="miter"/>
<polygon points="626,795.7 630.85,799.22 629,804.93 623,804.93 621.15,799.22" fill="#937860" stroke-linejoin="miter"/>
<polygon points="700.8,799.05 705.65,802.57 703.8,808.27 697.8,808.27 695.95,802.57" fill="#937860" stroke-linejoin="miter"/>
<polyline points="198.6,808.75 251.7,808.75 305.3,803.73 358.6,810.42 422.7,807.91 465.7,804.98 519.1,807.07 572.5,806.24 626,805.82 700.8,804.15" fill="none" stroke="#DA8BC3" stroke-width="2" stroke-linejoin="round" stroke-linecap="round"/>
<polygon points="193.5,808.75 203.7,803.65 203.7,813.85" fill="#DA8BC3" stroke-linejoin="miter"/>
<polygon points="246.6,808.75 256.8,803.65 256.8,813.85" fill="#DA8BC3" stroke-linejoin="miter"/>
<polygon points="300.2,803.73 310.4,798.63 310.4,808.83" fill="#DA8BC3" stroke-linejoin="miter"/>
<polygon points="353.5,810.42 363.7,805.32 363.7,815.52" fill="#DA8BC3" stroke-linejoin="miter"/>
<polygon points="417.6,807.91 427.8,802.81 427.8,813.01" fill="#DA8BC3" stroke-linejoin="miter"/>
<polygon points="460.6,804.98 470.8,799.88 470.8,810.08" fill="#DA8BC3" stroke-linejoin="miter"/>
<polygon points="514,807.07 524.2,801.97 524.2,812.17" fill="#DA8BC3" stroke-linejoin="miter"/>
<polygon points="567.4,806.24 577.6,801.14 577.6,811.34" fill="#DA8BC3" stroke-linejoin="miter"/>
<polygon points="620.9,805.82 631.1,800.72 631.1,810.92" fill="#DA8BC3" stroke-linejoin="miter"/>
<polygon points="695.7,804.15 705.9,799.05 705.9,809.25" fill="#DA8BC3" stroke-linejoin="miter"/>
<polyline points="198.6,819.21 251.7,810.84 305.3,807.07 358.6,805.82 422.7,804.98 465.7,804.98 519.1,803.31 572.5,802.89 626,802.47 700.8,802.47" fill="none" stroke="#8C8C8C" stroke-width="2" stroke-linejoin="round" stroke-linecap="round"/>
<polygon points="203.7,819.21 193.5,814.11 193.5,824.31" fill="#8C8C8C" stroke-linejoin="miter"/>
<polygon points="256.8,810.84 246.6,805.74 246.6,815.94" fill="#8C8C8C" stroke-linejoin="miter"/>
<polygon points="310.4,807.07 300.2,801.97 300.2,812.17" fill="#8C8C8C" stroke-linejoin="miter"/>
<polygon points="363.7,805.82 353.5,800.72 353.5,810.92" fill="#8C8C8C" stroke-linejoin="miter"/>
<polygon points="427.8,804.98 417.6,799.88 417.6,810.08" fill="#8C8C8C" stroke-linejoin="miter"/>
<polygon points="470.8,804.98 460.6,799.88 460.6,810.08" fill="#8C8C8C" stroke-linejoin="miter"/>
<polygon points="524.2,803.31 514,798.21 514,808.41" fill="#8C8C8C" stroke-linejoin="miter"/>
<polygon points="577.6,802.89 567.4,797.79 567.4,807.99" fill="#8C8C8C" stroke-linejoin="miter"/>
<polygon points="631.1,802.47 620.9,797.37 620.9,807.57" fill="#8C8C8C" stroke-linejoin="miter"/>
<polygon points="705.9,802.47 695.7,797.37 695.7,807.57" fill="#8C8C8C" stroke-linejoin="miter"/>
<text x="140.2" y="1052.25" text-anchor="end">0</text>
<text x="140.2" y="968.58" text-anchor="end">200</text>
<text x="140.2" y="884.9" text-anchor="end">400</text>
<text x="140.2" y="801.23" text-anchor="end">600</text>
<text x="140.2" y="717.56" text-anchor="end">800</text>
<text x="140.2" y="633.89" text-anchor="end">1000</text>
<text x="145.8" y="1065.75" text-anchor="middle">0</text>
<text x="272.87" y="1065.75" text-anchor="middle">2000</text>
<text x="399.93" y="1065.75" text-anchor="middle">4000</text>
<text x="527" y="1065.75" text-anchor="middle">6000</text>
<text x="654.07" y="1065.75" text-anchor="middle">8000</text>
<text x="431.7" y="1092.85" text-anchor="middle">Number of operational hours</text>
<text transform="translate(71.9 814.65) rotate(-90)" text-anchor="middle">200-hr MDS value ($/kW-yr)</text>
<rect x="832.5" y="583.25" width="571.8" height="460.2" fill="#EAEAF2"/>
<path d="M832.5 583.25V1043.45M959.57 583.25V1043.45M1086.63 583.25V1043.45M1213.7 583.25V1043.45M1340.77 583.25V1043.45M832.5 1043.45H1404.3M832.5 959.78H1404.3M832.5 876.1H1404.3M832.5 792.43H1404.3M832.5 708.76H1404.3M832.5 625.09H1404.3" stroke="#fff" stroke-opacity="0.8" stroke-width="1.5" fill="none"/>
<rect x="832.5" y="774.23" width="571.8" height="48.95" fill="#CBCAD0"/>
<path d="M959.57 774.23V823.18M1086.63 774.23V823.18M1213.7 774.23V823.18M1340.77 774.23V823.18" stroke="#fff" stroke-opacity="0.3" stroke-width="1.5" fill="none"/>
<line x1="832.5" y1="798.71" x2="1404.3" y2="798.71" stroke="#767676" stroke-width="1.9" stroke-dasharray="8 3.4"/>
<polyline points="885.6,862.72 938.7,820.04 992.3,816.28 1045.6,816.7 1109.7,819.63 1152.7,815.86 1206.1,815.86 1259.5,814.19 1313,814.61 1387.8,815.02" fill="none" stroke="#4C72B0" stroke-width="2" stroke-linejoin="round" stroke-linecap="round"/>
<circle cx="885.6" cy="862.72" r="5.1" fill="#4C72B0"/>
<circle cx="938.7" cy="820.04" r="5.1" fill="#4C72B0"/>
<circle cx="992.3" cy="816.28" r="5.1" fill="#4C72B0"/>
<circle cx="1045.6" cy="816.7" r="5.1" fill="#4C72B0"/>
<circle cx="1109.7" cy="819.63" r="5.1" fill="#4C72B0"/>
<circle cx="1152.7" cy="815.86" r="5.1" fill="#4C72B0"/>
<circle cx="1206.1" cy="815.86" r="5.1" fill="#4C72B0"/>
<circle cx="1259.5" cy="814.19" r="5.1" fill="#4C72B0"/>
<circle cx="1313" cy="814.61" r="5.1" fill="#4C72B0"/>
<circle cx="1387.8" cy="815.02" r="5.1" fill="#4C72B0"/>
<polyline points="885.6,803.73 938.7,809.17 992.3,807.07 1045.6,807.07 1109.7,805.82 1152.7,807.07 1206.1,806.66 1259.5,807.91 1313,807.07 1387.8,805.82" fill="none" stroke="#DD8452" stroke-width="2" stroke-linejoin="round" stroke-linecap="round"/>
<polygon points="880.91,799.04 890.29,799.04 890.29,808.42 880.91,808.42" fill="#DD8452" stroke-linejoin="miter"/>
<polygon points="934.01,804.47 943.39,804.47 943.39,813.86 934.01,813.86" fill="#DD8452" stroke-linejoin="miter"/>
<polygon points="987.61,802.38 996.99,802.38 996.99,811.77 987.61,811.77" fill="#DD8452" stroke-linejoin="miter"/>
<polygon points="1040.91,802.38 1050.29,802.38 1050.29,811.77 1040.91,811.77" fill="#DD8452" stroke-linejoin="miter"/>
<polygon points="1105.01,801.13 1114.39,801.13 1114.39,810.51 1105.01,810.51" fill="#DD8452" stroke-linejoin="miter"/>
<polygon points="1148.01,802.38 1157.39,802.38 1157.39,811.77 1148.01,811.77" fill="#DD8452" stroke-linejoin="miter"/>
<polygon points="1201.41,801.96 1210.79,801.96 1210.79,811.35 1201.41,811.35" fill="#DD8452" stroke-linejoin="miter"/>
<polygon points="1254.81,803.22 1264.19,803.22 1264.19,812.6 1254.81,812.6" fill="#DD8452" stroke-linejoin="miter"/>
<polygon points="1308.31,802.38 1317.69,802.38 1317.69,811.77 1308.31,811.77" fill="#DD8452" stroke-linejoin="miter"/>
<polygon points="1383.11,801.13 1392.49,801.13 1392.49,810.51 1383.11,810.51" fill="#DD8452" stroke-linejoin="miter"/>
<polyline points="885.6,820.46 938.7,814.19 992.3,800.8 1045.6,803.31 1109.7,804.98 1152.7,807.07 1206.1,808.33 1259.5,807.07 1313,807.07 1387.8,807.07" fill="none" stroke="#55A868" stroke-width="2" stroke-linejoin="round" stroke-linecap="round"/>
<polygon points="885.6,813.32 891.98,820.46 885.6,827.6 879.23,820.46" fill="#55A868" stroke-linejoin="miter"/>
<polygon points="938.7,807.05 945.08,814.19 938.7,821.33 932.33,814.19" fill="#55A868" stroke-linejoin="miter"/>
<polygon points="992.3,793.66 998.67,800.8 992.3,807.94 985.92,800.8" fill="#55A868" stroke-linejoin="miter"/>
<polygon points="1045.6,796.17 1051.97,803.31 1045.6,810.45 1039.22,803.31" fill="#55A868" stroke-linejoin="miter"/>
<polygon points="1109.7,797.84 1116.08,804.98 1109.7,812.12 1103.33,804.98" fill="#55A868" stroke-linejoin="miter"/>
<polygon points="1152.7,799.93 1159.08,807.07 1152.7,814.21 1146.33,807.07" fill="#55A868" stroke-linejoin="miter"/>
<polygon points="1206.1,801.19 1212.47,808.33 1206.1,815.47 1199.72,808.33" fill="#55A868" stroke-linejoin="miter"/>
<polygon points="1259.5,799.93 1265.88,807.07 1259.5,814.21 1253.12,807.07" fill="#55A868" stroke-linejoin="miter"/>
<polygon points="1313,799.93 1319.38,807.07 1313,814.21 1306.62,807.07" fill="#55A868" stroke-linejoin="miter"/>
<polygon points="1387.8,799.93 1394.17,807.07 1387.8,814.21 1381.42,807.07" fill="#55A868" stroke-linejoin="miter"/>
<polyline points="885.6,818.79 938.7,807.91 992.3,805.4 1045.6,806.24 1109.7,802.47 1152.7,802.47 1206.1,804.15 1259.5,803.31 1313,803.31 1387.8,803.31" fill="none" stroke="#C44E52" stroke-width="2" stroke-linejoin="round" stroke-linecap="round"/>
<polygon points="885.6,813.69 890.7,823.89 880.5,823.89" fill="#C44E52" stroke-linejoin="miter"/>
<polygon points="938.7,802.81 943.8,813.01 933.6,813.01" fill="#C44E52" stroke-linejoin="miter"/>
<polygon points="992.3,800.3 997.4,810.5 987.2,810.5" fill="#C44E52" stroke-linejoin="miter"/>
<polygon points="1045.6,801.14 1050.7,811.34 1040.5,811.34" fill="#C44E52" stroke-linejoin="miter"/>
<polygon points="1109.7,797.37 1114.8,807.57 1104.6,807.57" fill="#C44E52" stroke-linejoin="miter"/>
<polygon points="1152.7,797.37 1157.8,807.57 1147.6,807.57" fill="#C44E52" stroke-linejoin="miter"/>
<polygon points="1206.1,799.05 1211.2,809.25 1201,809.25" fill="#C44E52" stroke-linejoin="miter"/>
<polygon points="1259.5,798.21 1264.6,808.41 1254.4,808.41" fill="#C44E52" stroke-linejoin="miter"/>
<polygon points="1313,798.21 1318.1,808.41 1307.9,808.41" fill="#C44E52" stroke-linejoin="miter"/>
<polygon points="1387.8,798.21 1392.9,808.41 1382.7,808.41" fill="#C44E52" stroke-linejoin="miter"/>
<polyline points="885.6,849.33 938.7,805.4 992.3,807.91 1045.6,809.17 1109.7,809.17 1152.7,810.42 1206.1,809.17 1259.5,809.17 1313,810 1387.8,808.33" fill="none" stroke="#8172B3" stroke-width="2" stroke-linejoin="round" stroke-linecap="round"/>
<polygon points="883.56,844.23 887.64,844.23 887.64,847.29 890.7,847.29 890.7,851.37 887.64,851.37 887.64,854.43 883.56,854.43 883.56,851.37 880.5,851.37 880.5,847.29 883.56,847.29" fill="#8172B3" stroke-linejoin="miter"/>
<polygon points="936.66,800.3 940.74,800.3 940.74,803.36 943.8,803.36 943.8,807.44 940.74,807.44 940.74,810.5 936.66,810.5 936.66,807.44 933.6,807.44 933.6,803.36 936.66,803.36" fill="#8172B3" stroke-linejoin="miter"/>
<polygon points="990.26,802.81 994.34,802.81 994.34,805.87 997.4,805.87 997.4,809.95 994.34,809.95 994.34,813.01 990.26,813.01 990.26,809.95 987.2,809.95 987.2,805.87 990.26,805.87" fill="#8172B3" stroke-linejoin="miter"/>
<polygon points="1043.56,804.07 1047.64,804.07 1047.64,807.13 1050.7,807.13 1050.7,811.21 1047.64,811.21 1047.64,814.27 1043.56,814.27 1043.56,811.21 1040.5,811.21 1040.5,807.13 1043.56,807.13" fill="#8172B3" stroke-linejoin="miter"/>
<polygon points="1107.66,804.07 1111.74,804.07 1111.74,807.13 1114.8,807.13 1114.8,811.21 1111.74,811.21 1111.74,814.27 1107.66,814.27 1107.66,811.21 1104.6,811.21 1104.6,807.13 1107.66,807.13" fill="#8172B3" stroke-linejoin="miter"/>
<polygon points="1150.66,805.32 1154.74,805.32 1154.74,808.38 1157.8,808.38 1157.8,812.46 1154.74,812.46 1154.74,815.52 1150.66,815.52 1150.66,812.46 1147.6,812.46 1147.6,808.38 1150.66,808.38" fill="#8172B3" stroke-linejoin="miter"/>
<polygon points="1204.06,804.07 1208.14,804.07 1208.14,807.13 1211.2,807.13 1211.2,811.21 1208.14,811.21 1208.14,814.27 1204.06,814.27 1204.06,811.21 1201,811.21 1201,807.13 1204.06,807.13" fill="#8172B3" stroke-linejoin="miter"/>
<polygon points="1257.46,804.07 1261.54,804.07 1261.54,807.13 1264.6,807.13 1264.6,811.21 1261.54,811.21 1261.54,814.27 1257.46,814.27 1257.46,811.21 1254.4,811.21 1254.4,807.13 1257.46,807.13" fill="#8172B3" stroke-linejoin="miter"/>
<polygon points="1310.96,804.9 1315.04,804.9 1315.04,807.96 1318.1,807.96 1318.1,812.04 1315.04,812.04 1315.04,815.1 1310.96,815.1 1310.96,812.04 1307.9,812.04 1307.9,807.96 1310.96,807.96" fill="#8172B3" stroke-linejoin="miter"/>
<polygon points="1385.76,803.23 1389.84,803.23 1389.84,806.29 1392.9,806.29 1392.9,810.37 1389.84,810.37 1389.84,813.43 1385.76,813.43 1385.76,810.37 1382.7,810.37 1382.7,806.29 1385.76,806.29" fill="#8172B3" stroke-linejoin="miter"/>
<polyline points="885.6,821.3 938.7,809.17 992.3,809.17 1045.6,810 1109.7,815.02 1152.7,812.51 1206.1,810.84 1259.5,812.09 1313,812.51 1387.8,809.17" fill="none" stroke="#937860" stroke-width="2" stroke-linejoin="round" stroke-linecap="round"/>
<polygon points="885.6,816.2 890.45,819.72 888.6,825.42 882.6,825.42 880.75,819.72" fill="#937860" stroke-linejoin="miter"/>
<polygon points="938.7,804.07 943.55,807.59 941.7,813.29 935.7,813.29 933.85,807.59" fill="#937860" stroke-linejoin="miter"/>
<polygon points="992.3,804.07 997.15,807.59 995.3,813.29 989.3,813.29 987.45,807.59" fill="#937860" stroke-linejoin="miter"/>
<polygon points="1045.6,804.9 1050.45,808.43 1048.6,814.13 1042.6,814.13 1040.75,808.43" fill="#937860" stroke-linejoin="miter"/>
<polygon points="1109.7,809.92 1114.55,813.45 1112.7,819.15 1106.7,819.15 1104.85,813.45" fill="#937860" stroke-linejoin="miter"/>
<polygon points="1152.7,807.41 1157.55,810.94 1155.7,816.64 1149.7,816.64 1147.85,810.94" fill="#937860" stroke-linejoin="miter"/>
<polygon points="1206.1,805.74 1210.95,809.26 1209.1,814.97 1203.1,814.97 1201.25,809.26" fill="#937860" stroke-linejoin="miter"/>
<polygon points="1259.5,806.99 1264.35,810.52 1262.5,816.22 1256.5,816.22 1254.65,810.52" fill="#937860" stroke-linejoin="miter"/>
<polygon points="1313,807.41 1317.85,810.94 1316,816.64 1310,816.64 1308.15,810.94" fill="#937860" stroke-linejoin="miter"/>
<polygon points="1387.8,804.07 1392.65,807.59 1390.8,813.29 1384.8,813.29 1382.95,807.59" fill="#937860" stroke-linejoin="miter"/>
<polyline points="885.6,829.67 938.7,820.04 992.3,821.3 1045.6,810.42 1109.7,809.17 1152.7,807.07 1206.1,809.17 1259.5,808.33 1313,807.07 1387.8,806.66" fill="none" stroke="#DA8BC3" stroke-width="2" stroke-linejoin="round" stroke-linecap="round"/>
<polygon points="880.5,829.67 890.7,824.57 890.7,834.77" fill="#DA8BC3" stroke-linejoin="miter"/>
<polygon points="933.6,820.04 943.8,814.94 943.8,825.14" fill="#DA8BC3" stroke-linejoin="miter"/>
<polygon points="987.2,821.3 997.4,816.2 997.4,826.4" fill="#DA8BC3" stroke-linejoin="miter"/>
<polygon points="1040.5,810.42 1050.7,805.32 1050.7,815.52" fill="#DA8BC3" stroke-linejoin="miter"/>
<polygon points="1104.6,809.17 1114.8,804.07 1114.8,814.27" fill="#DA8BC3" stroke-linejoin="miter"/>
<polygon points="1147.6,807.07 1157.8,801.97 1157.8,812.17" fill="#DA8BC3" stroke-linejoin="miter"/>
<polygon points="1201,809.17 1211.2,804.07 1211.2,814.27" fill="#DA8BC3" stroke-linejoin="miter"/>
<polygon points="1254.4,808.33 1264.6,803.23 1264.6,813.43" fill="#DA8BC3" stroke-linejoin="miter"/>
<polygon points="1307.9,807.07 1318.1,801.97 1318.1,812.17" fill="#DA8BC3" stroke-linejoin="miter"/>
<polygon points="1382.7,806.66 1392.9,801.56 1392.9,811.76" fill="#DA8BC3" stroke-linejoin="miter"/>
<polyline points="885.6,843.05 938.7,832.18 992.3,810 1045.6,807.91 1109.7,808.33 1152.7,806.66 1206.1,809.17 1259.5,810 1313,810.84 1387.8,809.17" fill="none" stroke="#8C8C8C" stroke-width="2" stroke-linejoin="round" stroke-linecap="round"/>
<polygon points="890.7,843.05 880.5,837.95 880.5,848.15" fill="#8C8C8C" stroke-linejoin="miter"/>
<polygon points="943.8,832.18 933.6,827.08 933.6,837.28" fill="#8C8C8C" stroke-linejoin="miter"/>
<polygon points="997.4,810 987.2,804.9 987.2,815.1" fill="#8C8C8C" stroke-linejoin="miter"/>
<polygon points="1050.7,807.91 1040.5,802.81 1040.5,813.01" fill="#8C8C8C" stroke-linejoin="miter"/>
<polygon points="1114.8,808.33 1104.6,803.23 1104.6,813.43" fill="#8C8C8C" stroke-linejoin="miter"/>
<polygon points="1157.8,806.66 1147.6,801.56 1147.6,811.76" fill="#8C8C8C" stroke-linejoin="miter"/>
<polygon points="1211.2,809.17 1201,804.07 1201,814.27" fill="#8C8C8C" stroke-linejoin="miter"/>
<polygon points="1264.6,810 1254.4,804.9 1254.4,815.1" fill="#8C8C8C" stroke-linejoin="miter"/>
<polygon points="1318.1,810.84 1307.9,805.74 1307.9,815.94" fill="#8C8C8C" stroke-linejoin="miter"/>
<polygon points="1392.9,809.17 1382.7,804.07 1382.7,814.27" fill="#8C8C8C" stroke-linejoin="miter"/>
<text x="826.9" y="1052.25" text-anchor="end">0</text>
<text x="826.9" y="968.58" text-anchor="end">200</text>
<text x="826.9" y="884.9" text-anchor="end">400</text>
<text x="826.9" y="801.23" text-anchor="end">600</text>
<text x="826.9" y="717.56" text-anchor="end">800</text>
<text x="826.9" y="633.89" text-anchor="end">1000</text>
<text x="832.5" y="1065.75" text-anchor="middle">0</text>
<text x="959.57" y="1065.75" text-anchor="middle">2000</text>
<text x="1086.63" y="1065.75" text-anchor="middle">4000</text>
<text x="1213.7" y="1065.75" text-anchor="middle">6000</text>
<text x="1340.77" y="1065.75" text-anchor="middle">8000</text>
<text x="1118.4" y="1092.85" text-anchor="middle">Number of operational hours</text>
<text transform="translate(759 814.65) rotate(-90)" text-anchor="middle">200-hr MDS value ($/kW-yr)</text>
<text transform="translate(21.8 814.35) rotate(-90)" text-anchor="middle">No Zero Carbon CT</text>
<rect x="145.8" y="1135.9" width="571.8" height="460.2" fill="#EAEAF2"/>
<path d="M145.8 1135.9V1596.1M272.87 1135.9V1596.1M399.93 1135.9V1596.1M527 1135.9V1596.1M654.07 1135.9V1596.1M145.8 1596.1H717.6M145.8 1512.43H717.6M145.8 1428.75H717.6M145.8 1345.08H717.6M145.8 1261.41H717.6M145.8 1177.74H717.6" stroke="#fff" stroke-opacity="0.8" stroke-width="1.5" fill="none"/>
<rect x="145.8" y="1197.57" width="571.8" height="72.46" fill="#CBCAD0"/>
<path d="M272.87 1197.57V1270.03M399.93 1197.57V1270.03M527 1197.57V1270.03M654.07 1197.57V1270.03" stroke="#fff" stroke-opacity="0.3" stroke-width="1.5" fill="none"/>
<line x1="145.8" y1="1233.8" x2="717.6" y2="1233.8" stroke="#767676" stroke-width="1.9" stroke-dasharray="8 3.4"/>
<polyline points="198.6,1365.16 251.7,1255.55 305.3,1304.08 358.6,1301.57 422.7,1265.59 465.7,1234.22 519.1,1304.5 572.5,1304.92 626,1272.29 700.8,1237.56" fill="none" stroke="#4C72B0" stroke-width="2" stroke-linejoin="round" stroke-linecap="round"/>
<circle cx="198.6" cy="1365.16" r="5.1" fill="#4C72B0"/>
<circle cx="251.7" cy="1255.55" r="5.1" fill="#4C72B0"/>
<circle cx="305.3" cy="1304.08" r="5.1" fill="#4C72B0"/>
<circle cx="358.6" cy="1301.57" r="5.1" fill="#4C72B0"/>
<circle cx="422.7" cy="1265.59" r="5.1" fill="#4C72B0"/>
<circle cx="465.7" cy="1234.22" r="5.1" fill="#4C72B0"/>
<circle cx="519.1" cy="1304.5" r="5.1" fill="#4C72B0"/>
<circle cx="572.5" cy="1304.92" r="5.1" fill="#4C72B0"/>
<circle cx="626" cy="1272.29" r="5.1" fill="#4C72B0"/>
<circle cx="700.8" cy="1237.56" r="5.1" fill="#4C72B0"/>
<polyline points="198.6,1296.97 251.7,1297.39 305.3,1260.57 358.6,1268.52 422.7,1220.83 465.7,1223.76 519.1,1212.46 572.5,1218.32 626,1220.41 700.8,1225.43" fill="none" stroke="#DD8452" stroke-width="2" stroke-linejoin="round" stroke-linecap="round"/>
<polygon points="193.91,1292.28 203.29,1292.28 203.29,1301.66 193.91,1301.66" fill="#DD8452" stroke-linejoin="miter"/>
<polygon points="247.01,1292.7 256.39,1292.7 256.39,1302.08 247.01,1302.08" fill="#DD8452" stroke-linejoin="miter"/>
<polygon points="300.61,1255.88 309.99,1255.88 309.99,1265.26 300.61,1265.26" fill="#DD8452" stroke-linejoin="miter"/>
<polygon points="353.91,1263.83 363.29,1263.83 363.29,1273.21 353.91,1273.21" fill="#DD8452" stroke-linejoin="miter"/>
<polygon points="418.01,1216.14 427.39,1216.14 427.39,1225.52 418.01,1225.52" fill="#DD8452" stroke-linejoin="miter"/>
<polygon points="461.01,1219.06 470.39,1219.06 470.39,1228.45 461.01,1228.45" fill="#DD8452" stroke-linejoin="miter"/>
<polygon points="514.41,1207.77 523.79,1207.77 523.79,1217.15 514.41,1217.15" fill="#DD8452" stroke-linejoin="miter"/>
<polygon points="567.81,1213.63 577.19,1213.63 577.19,1223.01 567.81,1223.01" fill="#DD8452" stroke-linejoin="miter"/>
<polygon points="621.31,1215.72 630.69,1215.72 630.69,1225.1 621.31,1225.1" fill="#DD8452" stroke-linejoin="miter"/>
<polygon points="696.11,1220.74 705.49,1220.74 705.49,1230.12 696.11,1230.12" fill="#DD8452" stroke-linejoin="miter"/>
<polyline points="198.6,1322.49 251.7,1313.29 305.3,1275.22 358.6,1289.86 422.7,1291.11 465.7,1258.06 519.1,1286.09 572.5,1267.68 626,1253.88 700.8,1258.48" fill="none" stroke="#55A868" stroke-width="2" stroke-linejoin="round" stroke-linecap="round"/>
<polygon points="198.6,1315.35 204.97,1322.49 198.6,1329.63 192.22,1322.49" fill="#55A868" stroke-linejoin="miter"/>
<polygon points="251.7,1306.15 258.07,1313.29 251.7,1320.43 245.32,1313.29" fill="#55A868" stroke-linejoin="miter"/>
<polygon points="305.3,1268.08 311.68,1275.22 305.3,1282.36 298.93,1275.22" fill="#55A868" stroke-linejoin="miter"/>
<polygon points="358.6,1282.72 364.98,1289.86 358.6,1297 352.23,1289.86" fill="#55A868" stroke-linejoin="miter"/>
<polygon points="422.7,1283.97 429.07,1291.11 422.7,1298.25 416.32,1291.11" fill="#55A868" stroke-linejoin="miter"/>
<polygon points="465.7,1250.92 472.07,1258.06 465.7,1265.2 459.32,1258.06" fill="#55A868" stroke-linejoin="miter"/>
<polygon points="519.1,1278.95 525.48,1286.09 519.1,1293.23 512.73,1286.09" fill="#55A868" stroke-linejoin="miter"/>
<polygon points="572.5,1260.54 578.88,1267.68 572.5,1274.82 566.12,1267.68" fill="#55A868" stroke-linejoin="miter"/>
<polygon points="626,1246.74 632.38,1253.88 626,1261.02 619.62,1253.88" fill="#55A868" stroke-linejoin="miter"/>
<polygon points="700.8,1251.34 707.17,1258.48 700.8,1265.62 694.42,1258.48" fill="#55A868" stroke-linejoin="miter"/>
<polyline points="198.6,1258.48 251.7,1212.46 305.3,1202.42 358.6,1244.26 422.7,1250.11 465.7,1256.39 519.1,1256.39 572.5,1220.41 626,1226.27 700.8,1226.27" fill="none" stroke="#C44E52" stroke-width="2" stroke-linejoin="round" stroke-linecap="round"/>
<polygon points="198.6,1253.38 203.7,1263.58 193.5,1263.58" fill="#C44E52" stroke-linejoin="miter"/>
<polygon points="251.7,1207.36 256.8,1217.56 246.6,1217.56" fill="#C44E52" stroke-linejoin="miter"/>
<polygon points="305.3,1197.32 310.4,1207.52 300.2,1207.52" fill="#C44E52" stroke-linejoin="miter"/>
<polygon points="358.6,1239.16 363.7,1249.36 353.5,1249.36" fill="#C44E52" stroke-linejoin="miter"/>
<polygon points="422.7,1245.01 427.8,1255.21 417.6,1255.21" fill="#C44E52" stroke-linejoin="miter"/>
<polygon points="465.7,1251.29 470.8,1261.49 460.6,1261.49" fill="#C44E52" stroke-linejoin="miter"/>
<polygon points="519.1,1251.29 524.2,1261.49 514,1261.49" fill="#C44E52" stroke-linejoin="miter"/>
<polygon points="572.5,1215.31 577.6,1225.51 567.4,1225.51" fill="#C44E52" stroke-linejoin="miter"/>
<polygon points="626,1221.17 631.1,1231.37 620.9,1231.37" fill="#C44E52" stroke-linejoin="miter"/>
<polygon points="700.8,1221.17 705.9,1231.37 695.7,1231.37" fill="#C44E52" stroke-linejoin="miter"/>
<polyline points="198.6,1347.59 251.7,1282.33 305.3,1281.07 358.6,1272.7 422.7,1264.34 465.7,1271.45 519.1,1270.61 572.5,1242.58 626,1242.16 700.8,1245.51" fill="none" stroke="#8172B3" stroke-width="2" stroke-linejoin="round" stroke-linecap="round"/>
<polygon points="196.56,1342.49 200.64,1342.49 200.64,1345.55 203.7,1345.55 203.7,1349.63 200.64,1349.63 200.64,1352.69 196.56,1352.69 196.56,1349.63 193.5,1349.63 193.5,1345.55 196.56,1345.55" fill="#8172B3" stroke-linejoin="miter"/>
<polygon points="249.66,1277.23 253.74,1277.23 253.74,1280.29 256.8,1280.29 256.8,1284.37 253.74,1284.37 253.74,1287.43 249.66,1287.43 249.66,1284.37 246.6,1284.37 246.6,1280.29 249.66,1280.29" fill="#8172B3" stroke-linejoin="miter"/>
<polygon points="303.26,1275.97 307.34,1275.97 307.34,1279.03 310.4,1279.03 310.4,1283.11 307.34,1283.11 307.34,1286.17 303.26,1286.17 303.26,1283.11 300.2,1283.11 300.2,1279.03 303.26,1279.03" fill="#8172B3" stroke-linejoin="miter"/>
<polygon points="356.56,1267.6 360.64,1267.6 360.64,1270.66 363.7,1270.66 363.7,1274.74 360.64,1274.74 360.64,1277.8 356.56,1277.8 356.56,1274.74 353.5,1274.74 353.5,1270.66 356.56,1270.66" fill="#8172B3" stroke-linejoin="miter"/>
<polygon points="420.66,1259.24 424.74,1259.24 424.74,1262.3 427.8,1262.3 427.8,1266.38 424.74,1266.38 424.74,1269.44 420.66,1269.44 420.66,1266.38 417.6,1266.38 417.6,1262.3 420.66,1262.3" fill="#8172B3" stroke-linejoin="miter"/>
<polygon points="463.66,1266.35 467.74,1266.35 467.74,1269.41 470.8,1269.41 470.8,1273.49 467.74,1273.49 467.74,1276.55 463.66,1276.55 463.66,1273.49 460.6,1273.49 460.6,1269.41 463.66,1269.41" fill="#8172B3" stroke-linejoin="miter"/>
<polygon points="517.06,1265.51 521.14,1265.51 521.14,1268.57 524.2,1268.57 524.2,1272.65 521.14,1272.65 521.14,1275.71 517.06,1275.71 517.06,1272.65 514,1272.65 514,1268.57 517.06,1268.57" fill="#8172B3" stroke-linejoin="miter"/>
<polygon points="570.46,1237.48 574.54,1237.48 574.54,1240.54 577.6,1240.54 577.6,1244.62 574.54,1244.62 574.54,1247.68 570.46,1247.68 570.46,1244.62 567.4,1244.62 567.4,1240.54 570.46,1240.54" fill="#8172B3" stroke-linejoin="miter"/>
<polygon points="623.96,1237.06 628.04,1237.06 628.04,1240.12 631.1,1240.12 631.1,1244.2 628.04,1244.2 628.04,1247.26 623.96,1247.26 623.96,1244.2 620.9,1244.2 620.9,1240.12 623.96,1240.12" fill="#8172B3" stroke-linejoin="miter"/>
<polygon points="698.76,1240.41 702.84,1240.41 702.84,1243.47 705.9,1243.47 705.9,1247.55 702.84,1247.55 702.84,1250.61 698.76,1250.61 698.76,1247.55 695.7,1247.55 695.7,1243.47 698.76,1243.47" fill="#8172B3" stroke-linejoin="miter"/>
<polyline points="198.6,1353.45 251.7,1264.34 305.3,1293.2 358.6,1260.57 422.7,1287.35 465.7,1301.99 519.1,1279.82 572.5,1250.95 626,1277.73 700.8,1271.87" fill="none" stroke="#937860" stroke-width="2" stroke-linejoin="round" stroke-linecap="round"/>
<polygon points="198.6,1348.35 203.45,1351.87 201.6,1357.58 195.6,1357.58 193.75,1351.87" fill="#937860" stroke-linejoin="miter"/>
<polygon points="251.7,1259.24 256.55,1262.76 254.7,1268.46 248.7,1268.46 246.85,1262.76" fill="#937860" stroke-linejoin="miter"/>
<polygon points="305.3,1288.1 310.15,1291.63 308.3,1297.33 302.3,1297.33 300.45,1291.63" fill="#937860" stroke-linejoin="miter"/>
<polygon points="358.6,1255.47 363.45,1259 361.6,1264.7 355.6,1264.7 353.75,1259" fill="#937860" stroke-linejoin="miter"/>
<polygon points="422.7,1282.25 427.55,1285.77 425.7,1291.47 419.7,1291.47 417.85,1285.77" fill="#937860" stroke-linejoin="miter"/>
<polygon points="465.7,1296.89 470.55,1300.41 468.7,1306.12 462.7,1306.12 460.85,1300.41" fill="#937860" stroke-linejoin="miter"/>
<polygon points="519.1,1274.72 523.95,1278.24 522.1,1283.94 516.1,1283.94 514.25,1278.24" fill="#937860" stroke-linejoin="miter"/>
<polygon points="572.5,1245.85 577.35,1249.37 575.5,1255.08 569.5,1255.08 567.65,1249.37" fill="#937860" stroke-linejoin="miter"/>
<polygon points="626,1272.63 630.85,1276.15 629,1281.85 623,1281.85 621.15,1276.15" fill="#937860" stroke-linejoin="miter"/>
<polygon points="700.8,1266.77 705.65,1270.29 703.8,1275.99 697.8,1275.99 695.95,1270.29" fill="#937860" stroke-linejoin="miter"/>
<polyline points="198.6,1341.73 251.7,1292.37 305.3,1279.4 358.6,1282.75 422.7,1280.24 465.7,1260.15 519.1,1229.2 572.5,1276.05 626,1259.32 700.8,1222.92" fill="none" stroke="#DA8BC3" stroke-width="2" stroke-linejoin="round" stroke-linecap="round"/>
<polygon points="193.5,1341.73 203.7,1336.63 203.7,1346.83" fill="#DA8BC3" stroke-linejoin="miter"/>
<polygon points="246.6,1292.37 256.8,1287.27 256.8,1297.47" fill="#DA8BC3" stroke-linejoin="miter"/>
<polygon points="300.2,1279.4 310.4,1274.3 310.4,1284.5" fill="#DA8BC3" stroke-linejoin="miter"/>
<polygon points="353.5,1282.75 363.7,1277.65 363.7,1287.85" fill="#DA8BC3" stroke-linejoin="miter"/>
<polygon points="417.6,1280.24 427.8,1275.14 427.8,1285.34" fill="#DA8BC3" stroke-linejoin="miter"/>
<polygon points="460.6,1260.15 470.8,1255.05 470.8,1265.25" fill="#DA8BC3" stroke-linejoin="miter"/>
<polygon points="514,1229.2 524.2,1224.1 524.2,1234.3" fill="#DA8BC3" stroke-linejoin="miter"/>
<polygon points="567.4,1276.05 577.6,1270.95 577.6,1281.15" fill="#DA8BC3" stroke-linejoin="miter"/>
<polygon points="620.9,1259.32 631.1,1254.22 631.1,1264.42" fill="#DA8BC3" stroke-linejoin="miter"/>
<polygon points="695.7,1222.92 705.9,1217.82 705.9,1228.02" fill="#DA8BC3" stroke-linejoin="miter"/>
<polyline points="198.6,1325.84 251.7,1309.94 305.3,1302.41 358.6,1240.91 422.7,1240.07 465.7,1244.26 519.1,1249.28 572.5,1239.24 626,1248.86 700.8,1243" fill="none" stroke="#8C8C8C" stroke-width="2" stroke-linejoin="round" stroke-linecap="round"/>
<polygon points="203.7,1325.84 193.5,1320.74 193.5,1330.94" fill="#8C8C8C" stroke-linejoin="miter"/>
<polygon points="256.8,1309.94 246.6,1304.84 246.6,1315.04" fill="#8C8C8C" stroke-linejoin="miter"/>
<polygon points="310.4,1302.41 300.2,1297.31 300.2,1307.51" fill="#8C8C8C" stroke-linejoin="miter"/>
<polygon points="363.7,1240.91 353.5,1235.81 353.5,1246.01" fill="#8C8C8C" stroke-linejoin="miter"/>
<polygon points="427.8,1240.07 417.6,1234.97 417.6,1245.17" fill="#8C8C8C" stroke-linejoin="miter"/>
<polygon points="470.8,1244.26 460.6,1239.16 460.6,1249.36" fill="#8C8C8C" stroke-linejoin="miter"/>
<polygon points="524.2,1249.28 514,1244.18 514,1254.38" fill="#8C8C8C" stroke-linejoin="miter"/>
<polygon points="577.6,1239.24 567.4,1234.14 567.4,1244.34" fill="#8C8C8C" stroke-linejoin="miter"/>
<polygon points="631.1,1248.86 620.9,1243.76 620.9,1253.96" fill="#8C8C8C" stroke-linejoin="miter"/>
<polygon points="705.9,1243 695.7,1237.9 695.7,1248.1" fill="#8C8C8C" stroke-linejoin="miter"/>
<text x="140.2" y="1604.9" text-anchor="end">0</text>
<text x="140.2" y="1521.23" text-anchor="end">200</text>
<text x="140.2" y="1437.55" text-anchor="end">400</text>
<text x="140.2" y="1353.88" text-anchor="end">600</text>
<text x="140.2" y="1270.21" text-anchor="end">800</text>
<text x="140.2" y="1186.54" text-anchor="end">1000</text>
<text x="145.8" y="1618.4" text-anchor="middle">0</text>
<text x="272.87" y="1618.4" text-anchor="middle">2000</text>
<text x="399.93" y="1618.4" text-anchor="middle">4000</text>
<text x="527" y="1618.4" text-anchor="middle">6000</text>
<text x="654.07" y="1618.4" text-anchor="middle">8000</text>
<text x="431.7" y="1645.5" text-anchor="middle">Number of operational hours</text>
<text transform="translate(71.9 1366.6) rotate(-90)" text-anchor="middle">200-hr MDS value ($/kW-yr)</text>
<rect x="832.5" y="1135.9" width="571.8" height="460.2" fill="#EAEAF2"/>
<path d="M832.5 1135.9V1596.1M959.57 1135.9V1596.1M1086.63 1135.9V1596.1M1213.7 1135.9V1596.1M1340.77 1135.9V1596.1M832.5 1596.1H1404.3M832.5 1512.43H1404.3M832.5 1428.75H1404.3M832.5 1345.08H1404.3M832.5 1261.41H1404.3M832.5 1177.74H1404.3" stroke="#fff" stroke-opacity="0.8" stroke-width="1.5" fill="none"/>
<rect x="832.5" y="1197.57" width="571.8" height="72.46" fill="#CBCAD0"/>
<path d="M959.57 1197.57V1270.03M1086.63 1197.57V1270.03M1213.7 1197.57V1270.03M1340.77 1197.57V1270.03" stroke="#fff" stroke-opacity="0.3" stroke-width="1.5" fill="none"/>
<line x1="832.5" y1="1233.8" x2="1404.3" y2="1233.8" stroke="#767676" stroke-width="1.9" stroke-dasharray="8 3.4"/>
<polyline points="885.6,1402.4 938.7,1251.37 992.3,1295.3 1045.6,1306.17 1109.7,1256.81 1152.7,1260.57 1206.1,1288.18 1259.5,1301.57 1313,1255.97 1387.8,1213.72" fill="none" stroke="#4C72B0" stroke-width="2" stroke-linejoin="round" stroke-linecap="round"/>
<circle cx="885.6" cy="1402.4" r="5.1" fill="#4C72B0"/>
<circle cx="938.7" cy="1251.37" r="5.1" fill="#4C72B0"/>
<circle cx="992.3" cy="1295.3" r="5.1" fill="#4C72B0"/>
<circle cx="1045.6" cy="1306.17" r="5.1" fill="#4C72B0"/>
<circle cx="1109.7" cy="1256.81" r="5.1" fill="#4C72B0"/>
<circle cx="1152.7" cy="1260.57" r="5.1" fill="#4C72B0"/>
<circle cx="1206.1" cy="1288.18" r="5.1" fill="#4C72B0"/>
<circle cx="1259.5" cy="1301.57" r="5.1" fill="#4C72B0"/>
<circle cx="1313" cy="1255.97" r="5.1" fill="#4C72B0"/>
<circle cx="1387.8" cy="1213.72" r="5.1" fill="#4C72B0"/>
<polyline points="885.6,1333.37 938.7,1276.47 992.3,1263.5 1045.6,1223.76 1109.7,1246.77 1152.7,1215.39 1206.1,1223.34 1259.5,1225.85 1313,1229.2 1387.8,1216.64" fill="none" stroke="#DD8452" stroke-width="2" stroke-linejoin="round" stroke-linecap="round"/>
<polygon points="880.91,1328.68 890.29,1328.68 890.29,1338.06 880.91,1338.06" fill="#DD8452" stroke-linejoin="miter"/>
<polygon points="934.01,1271.78 943.39,1271.78 943.39,1281.16 934.01,1281.16" fill="#DD8452" stroke-linejoin="miter"/>
<polygon points="987.61,1258.81 996.99,1258.81 996.99,1268.19 987.61,1268.19" fill="#DD8452" stroke-linejoin="miter"/>
<polygon points="1040.91,1219.06 1050.29,1219.06 1050.29,1228.45 1040.91,1228.45" fill="#DD8452" stroke-linejoin="miter"/>
<polygon points="1105.01,1242.07 1114.39,1242.07 1114.39,1251.46 1105.01,1251.46" fill="#DD8452" stroke-linejoin="miter"/>
<polygon points="1148.01,1210.7 1157.39,1210.7 1157.39,1220.08 1148.01,1220.08" fill="#DD8452" stroke-linejoin="miter"/>
<polygon points="1201.41,1218.65 1210.79,1218.65 1210.79,1228.03 1201.41,1228.03" fill="#DD8452" stroke-linejoin="miter"/>
<polygon points="1254.81,1221.16 1264.19,1221.16 1264.19,1230.54 1254.81,1230.54" fill="#DD8452" stroke-linejoin="miter"/>
<polygon points="1308.31,1224.5 1317.69,1224.5 1317.69,1233.89 1308.31,1233.89" fill="#DD8452" stroke-linejoin="miter"/>
<polygon points="1383.11,1211.95 1392.49,1211.95 1392.49,1221.34 1383.11,1221.34" fill="#DD8452" stroke-linejoin="miter"/>
<polyline points="885.6,1340.06 938.7,1326.26 992.3,1264.76 1045.6,1289.02 1109.7,1292.79 1152.7,1237.98 1206.1,1269.36 1259.5,1243.42 1313,1242.58 1387.8,1236.73" fill="none" stroke="#55A868" stroke-width="2" stroke-linejoin="round" stroke-linecap="round"/>
<polygon points="885.6,1332.92 891.98,1340.06 885.6,1347.2 879.23,1340.06" fill="#55A868" stroke-linejoin="miter"/>
<polygon points="938.7,1319.12 945.08,1326.26 938.7,1333.4 932.33,1326.26" fill="#55A868" stroke-linejoin="miter"/>
<polygon points="992.3,1257.62 998.67,1264.76 992.3,1271.9 985.92,1264.76" fill="#55A868" stroke-linejoin="miter"/>
<polygon points="1045.6,1281.88 1051.97,1289.02 1045.6,1296.16 1039.22,1289.02" fill="#55A868" stroke-linejoin="miter"/>
<polygon points="1109.7,1285.65 1116.08,1292.79 1109.7,1299.93 1103.33,1292.79" fill="#55A868" stroke-linejoin="miter"/>
<polygon points="1152.7,1230.84 1159.08,1237.98 1152.7,1245.12 1146.33,1237.98" fill="#55A868" stroke-linejoin="miter"/>
<polygon points="1206.1,1262.22 1212.47,1269.36 1206.1,1276.5 1199.72,1269.36" fill="#55A868" stroke-linejoin="miter"/>
<polygon points="1259.5,1236.28 1265.88,1243.42 1259.5,1250.56 1253.12,1243.42" fill="#55A868" stroke-linejoin="miter"/>
<polygon points="1313,1235.44 1319.38,1242.58 1313,1249.72 1306.62,1242.58" fill="#55A868" stroke-linejoin="miter"/>
<polygon points="1387.8,1229.59 1394.17,1236.73 1387.8,1243.87 1381.42,1236.73" fill="#55A868" stroke-linejoin="miter"/>
<polyline points="885.6,1241.75 938.7,1159.75 992.3,1182.76 1045.6,1180.25 1109.7,1237.14 1152.7,1210.79 1206.1,1223.76 1259.5,1189.03 1313,1185.69 1387.8,1197.82" fill="none" stroke="#C44E52" stroke-width="2" stroke-linejoin="round" stroke-linecap="round"/>
<polygon points="885.6,1236.65 890.7,1246.85 880.5,1246.85" fill="#C44E52" stroke-linejoin="miter"/>
<polygon points="938.7,1154.65 943.8,1164.85 933.6,1164.85" fill="#C44E52" stroke-linejoin="miter"/>
<polygon points="992.3,1177.66 997.4,1187.86 987.2,1187.86" fill="#C44E52" stroke-linejoin="miter"/>
<polygon points="1045.6,1175.15 1050.7,1185.35 1040.5,1185.35" fill="#C44E52" stroke-linejoin="miter"/>
<polygon points="1109.7,1232.04 1114.8,1242.24 1104.6,1242.24" fill="#C44E52" stroke-linejoin="miter"/>
<polygon points="1152.7,1205.69 1157.8,1215.89 1147.6,1215.89" fill="#C44E52" stroke-linejoin="miter"/>
<polygon points="1206.1,1218.66 1211.2,1228.86 1201,1228.86" fill="#C44E52" stroke-linejoin="miter"/>
<polygon points="1259.5,1183.93 1264.6,1194.13 1254.4,1194.13" fill="#C44E52" stroke-linejoin="miter"/>
<polygon points="1313,1180.59 1318.1,1190.79 1307.9,1190.79" fill="#C44E52" stroke-linejoin="miter"/>
<polygon points="1387.8,1192.72 1392.9,1202.92 1382.7,1202.92" fill="#C44E52" stroke-linejoin="miter"/>
<polyline points="885.6,1366.84 938.7,1288.18 992.3,1282.33 1045.6,1304.92 1109.7,1303.66 1152.7,1295.3 1206.1,1274.8 1259.5,1282.33 1313,1279.4 1387.8,1274.8" fill="none" stroke="#8172B3" stroke-width="2" stroke-linejoin="round" stroke-linecap="round"/>
<polygon points="883.56,1361.74 887.64,1361.74 887.64,1364.8 890.7,1364.8 890.7,1368.88 887.64,1368.88 887.64,1371.94 883.56,1371.94 883.56,1368.88 880.5,1368.88 880.5,1364.8 883.56,1364.8" fill="#8172B3" stroke-linejoin="miter"/>
<polygon points="936.66,1283.08 940.74,1283.08 940.74,1286.14 943.8,1286.14 943.8,1290.22 940.74,1290.22 940.74,1293.28 936.66,1293.28 936.66,1290.22 933.6,1290.22 933.6,1286.14 936.66,1286.14" fill="#8172B3" stroke-linejoin="miter"/>
<polygon points="990.26,1277.23 994.34,1277.23 994.34,1280.29 997.4,1280.29 997.4,1284.37 994.34,1284.37 994.34,1287.43 990.26,1287.43 990.26,1284.37 987.2,1284.37 987.2,1280.29 990.26,1280.29" fill="#8172B3" stroke-linejoin="miter"/>
<polygon points="1043.56,1299.82 1047.64,1299.82 1047.64,1302.88 1050.7,1302.88 1050.7,1306.96 1047.64,1306.96 1047.64,1310.02 1043.56,1310.02 1043.56,1306.96 1040.5,1306.96 1040.5,1302.88 1043.56,1302.88" fill="#8172B3" stroke-linejoin="miter"/>
<polygon points="1107.66,1298.56 1111.74,1298.56 1111.74,1301.62 1114.8,1301.62 1114.8,1305.7 1111.74,1305.7 1111.74,1308.76 1107.66,1308.76 1107.66,1305.7 1104.6,1305.7 1104.6,1301.62 1107.66,1301.62" fill="#8172B3" stroke-linejoin="miter"/>
<polygon points="1150.66,1290.2 1154.74,1290.2 1154.74,1293.26 1157.8,1293.26 1157.8,1297.34 1154.74,1297.34 1154.74,1300.4 1150.66,1300.4 1150.66,1297.34 1147.6,1297.34 1147.6,1293.26 1150.66,1293.26" fill="#8172B3" stroke-linejoin="miter"/>
<polygon points="1204.06,1269.7 1208.14,1269.7 1208.14,1272.76 1211.2,1272.76 1211.2,1276.84 1208.14,1276.84 1208.14,1279.9 1204.06,1279.9 1204.06,1276.84 1201,1276.84 1201,1272.76 1204.06,1272.76" fill="#8172B3" stroke-linejoin="miter"/>
<polygon points="1257.46,1277.23 1261.54,1277.23 1261.54,1280.29 1264.6,1280.29 1264.6,1284.37 1261.54,1284.37 1261.54,1287.43 1257.46,1287.43 1257.46,1284.37 1254.4,1284.37 1254.4,1280.29 1257.46,1280.29" fill="#8172B3" stroke-linejoin="miter"/>
<polygon points="1310.96,1274.3 1315.04,1274.3 1315.04,1277.36 1318.1,1277.36 1318.1,1281.44 1315.04,1281.44 1315.04,1284.5 1310.96,1284.5 1310.96,1281.44 1307.9,1281.44 1307.9,1277.36 1310.96,1277.36" fill="#8172B3" stroke-linejoin="miter"/>
<polygon points="1385.76,1269.7 1389.84,1269.7 1389.84,1272.76 1392.9,1272.76 1392.9,1276.84 1389.84,1276.84 1389.84,1279.9 1385.76,1279.9 1385.76,1276.84 1382.7,1276.84 1382.7,1272.76 1385.76,1272.76" fill="#8172B3" stroke-linejoin="miter"/>
<polyline points="885.6,1363.49 938.7,1289.86 992.3,1329.6 1045.6,1263.08 1109.7,1305.34 1152.7,1309.1 1206.1,1298.23 1259.5,1279.4 1313,1294.88 1387.8,1292.37" fill="none" stroke="#937860" stroke-width="2" stroke-linejoin="round" stroke-linecap="round"/>
<polygon points="885.6,1358.39 890.45,1361.91 888.6,1367.62 882.6,1367.62 880.75,1361.91" fill="#937860" stroke-linejoin="miter"/>
<polygon points="938.7,1284.76 943.55,1288.28 941.7,1293.98 935.7,1293.98 933.85,1288.28" fill="#937860" stroke-linejoin="miter"/>
<polygon points="992.3,1324.5 997.15,1328.03 995.3,1333.73 989.3,1333.73 987.45,1328.03" fill="#937860" stroke-linejoin="miter"/>
<polygon points="1045.6,1257.98 1050.45,1261.51 1048.6,1267.21 1042.6,1267.21 1040.75,1261.51" fill="#937860" stroke-linejoin="miter"/>
<polygon points="1109.7,1300.24 1114.55,1303.76 1112.7,1309.46 1106.7,1309.46 1104.85,1303.76" fill="#937860" stroke-linejoin="miter"/>
<polygon points="1152.7,1304 1157.55,1307.53 1155.7,1313.23 1149.7,1313.23 1147.85,1307.53" fill="#937860" stroke-linejoin="miter"/>
<polygon points="1206.1,1293.13 1210.95,1296.65 1209.1,1302.35 1203.1,1302.35 1201.25,1296.65" fill="#937860" stroke-linejoin="miter"/>
<polygon points="1259.5,1274.3 1264.35,1277.82 1262.5,1283.52 1256.5,1283.52 1254.65,1277.82" fill="#937860" stroke-linejoin="miter"/>
<polygon points="1313,1289.78 1317.85,1293.3 1316,1299 1310,1299 1308.15,1293.3" fill="#937860" stroke-linejoin="miter"/>
<polygon points="1387.8,1287.27 1392.65,1290.79 1390.8,1296.49 1384.8,1296.49 1382.95,1290.79" fill="#937860" stroke-linejoin="miter"/>
<polyline points="885.6,1360.14 938.7,1254.3 992.3,1244.26 1045.6,1267.27 1109.7,1250.11 1152.7,1254.3 1206.1,1261.83 1259.5,1247.18 1313,1250.95 1387.8,1252.62" fill="none" stroke="#DA8BC3" stroke-width="2" stroke-linejoin="round" stroke-linecap="round"/>
<polygon points="880.5,1360.14 890.7,1355.04 890.7,1365.24" fill="#DA8BC3" stroke-linejoin="miter"/>
<polygon points="933.6,1254.3 943.8,1249.2 943.8,1259.4" fill="#DA8BC3" stroke-linejoin="miter"/>
<polygon points="987.2,1244.26 997.4,1239.16 997.4,1249.36" fill="#DA8BC3" stroke-linejoin="miter"/>
<polygon points="1040.5,1267.27 1050.7,1262.17 1050.7,1272.37" fill="#DA8BC3" stroke-linejoin="miter"/>
<polygon points="1104.6,1250.11 1114.8,1245.01 1114.8,1255.21" fill="#DA8BC3" stroke-linejoin="miter"/>
<polygon points="1147.6,1254.3 1157.8,1249.2 1157.8,1259.4" fill="#DA8BC3" stroke-linejoin="miter"/>
<polygon points="1201,1261.83 1211.2,1256.73 1211.2,1266.93" fill="#DA8BC3" stroke-linejoin="miter"/>
<polygon points="1254.4,1247.18 1264.6,1242.08 1264.6,1252.28" fill="#DA8BC3" stroke-linejoin="miter"/>
<polygon points="1307.9,1250.95 1318.1,1245.85 1318.1,1256.05" fill="#DA8BC3" stroke-linejoin="miter"/>
<polygon points="1382.7,1252.62 1392.9,1247.52 1392.9,1257.72" fill="#DA8BC3" stroke-linejoin="miter"/>
<polyline points="885.6,1372.28 938.7,1336.3 992.3,1296.55 1045.6,1238.4 1109.7,1259.32 1152.7,1278.56 1206.1,1268.52 1259.5,1267.27 1313,1267.27 1387.8,1239.65" fill="none" stroke="#8C8C8C" stroke-width="2" stroke-linejoin="round" stroke-linecap="round"/>
<polygon points="890.7,1372.28 880.5,1367.18 880.5,1377.38" fill="#8C8C8C" stroke-linejoin="miter"/>
<polygon points="943.8,1336.3 933.6,1331.2 933.6,1341.4" fill="#8C8C8C" stroke-linejoin="miter"/>
<polygon points="997.4,1296.55 987.2,1291.45 987.2,1301.65" fill="#8C8C8C" stroke-linejoin="miter"/>
<polygon points="1050.7,1238.4 1040.5,1233.3 1040.5,1243.5" fill="#8C8C8C" stroke-linejoin="miter"/>
<polygon points="1114.8,1259.32 1104.6,1254.22 1104.6,1264.42" fill="#8C8C8C" stroke-linejoin="miter"/>
<polygon points="1157.8,1278.56 1147.6,1273.46 1147.6,1283.66" fill="#8C8C8C" stroke-linejoin="miter"/>
<polygon points="1211.2,1268.52 1201,1263.42 1201,1273.62" fill="#8C8C8C" stroke-linejoin="miter"/>
<polygon points="1264.6,1267.27 1254.4,1262.17 1254.4,1272.37" fill="#8C8C8C" stroke-linejoin="miter"/>
<polygon points="1318.1,1267.27 1307.9,1262.17 1307.9,1272.37" fill="#8C8C8C" stroke-linejoin="miter"/>
<polygon points="1392.9,1239.65 1382.7,1234.55 1382.7,1244.75" fill="#8C8C8C" stroke-linejoin="miter"/>
<text x="826.9" y="1604.9" text-anchor="end">0</text>
<text x="826.9" y="1521.23" text-anchor="end">200</text>
<text x="826.9" y="1437.55" text-anchor="end">400</text>
<text x="826.9" y="1353.88" text-anchor="end">600</text>
<text x="826.9" y="1270.21" text-anchor="end">800</text>
<text x="826.9" y="1186.54" text-anchor="end">1000</text>
<text x="832.5" y="1618.4" text-anchor="middle">0</text>
<text x="959.57" y="1618.4" text-anchor="middle">2000</text>
<text x="1086.63" y="1618.4" text-anchor="middle">4000</text>
<text x="1213.7" y="1618.4" text-anchor="middle">6000</text>
<text x="1340.77" y="1618.4" text-anchor="middle">8000</text>
<text x="1118.4" y="1645.5" text-anchor="middle">Number of operational hours</text>
<text transform="translate(759 1366.6) rotate(-90)" text-anchor="middle">200-hr MDS value ($/kW-yr)</text>
<text transform="translate(21.8 1367) rotate(-90)" text-anchor="middle">No Clean Firm</text>
<line x1="1441.5" y1="43.8" x2="1488" y2="43.8" stroke="#4C72B0" stroke-width="2" stroke-linecap="butt"/>
<circle cx="1465" cy="43.8" r="5.1" fill="#4C72B0"/>
<text x="1506" y="51.8">Multi-weather year</text>
<line x1="1441.5" y1="76.81" x2="1488" y2="76.81" stroke="#DD8452" stroke-width="2" stroke-linecap="butt"/>
<polygon points="1460.31,72.12 1469.69,72.12 1469.69,81.5 1460.31,81.5" fill="#DD8452" stroke-linejoin="miter"/>
<text x="1506" y="84.81">2007</text>
<line x1="1441.5" y1="109.82" x2="1488" y2="109.82" stroke="#55A868" stroke-width="2" stroke-linecap="butt"/>
<polygon points="1465,102.68 1471.38,109.82 1465,116.96 1458.62,109.82" fill="#55A868" stroke-linejoin="miter"/>
<text x="1506" y="117.82">2008</text>
<line x1="1441.5" y1="142.83" x2="1488" y2="142.83" stroke="#C44E52" stroke-width="2" stroke-linecap="butt"/>
<polygon points="1465,137.73 1470.1,147.93 1459.9,147.93" fill="#C44E52" stroke-linejoin="miter"/>
<text x="1506" y="150.83">2009</text>
<line x1="1441.5" y1="175.84" x2="1488" y2="175.84" stroke="#8172B3" stroke-width="2" stroke-linecap="butt"/>
<polygon points="1462.96,170.74 1467.04,170.74 1467.04,173.8 1470.1,173.8 1470.1,177.88 1467.04,177.88 1467.04,180.94 1462.96,180.94 1462.96,177.88 1459.9,177.88 1459.9,173.8 1462.96,173.8" fill="#8172B3" stroke-linejoin="miter"/>
<text x="1506" y="183.84">2010</text>
<line x1="1441.5" y1="208.85" x2="1488" y2="208.85" stroke="#937860" stroke-width="2" stroke-linecap="butt"/>
<polygon points="1465,203.75 1469.85,207.27 1468,212.98 1462,212.98 1460.15,207.27" fill="#937860" stroke-linejoin="miter"/>
<text x="1506" y="216.85">2011</text>
<line x1="1441.5" y1="241.86" x2="1488" y2="241.86" stroke="#DA8BC3" stroke-width="2" stroke-linecap="butt"/>
<polygon points="1459.9,241.86 1470.1,236.76 1470.1,246.96" fill="#DA8BC3" stroke-linejoin="miter"/>
<text x="1506" y="249.86">2012</text>
<line x1="1441.5" y1="274.87" x2="1488" y2="274.87" stroke="#8C8C8C" stroke-width="2" stroke-linecap="butt"/>
<polygon points="1470.1,274.87 1459.9,269.77 1459.9,279.97" fill="#8C8C8C" stroke-linejoin="miter"/>
<text x="1506" y="282.87">2013</text>
<line x1="1442" y1="307.88" x2="1486" y2="307.88" stroke="#767676" stroke-width="1.9" stroke-dasharray="8 3.4"/>
<text x="1506" y="315.88">Benchmark value</text>
</svg>
</body></html>
